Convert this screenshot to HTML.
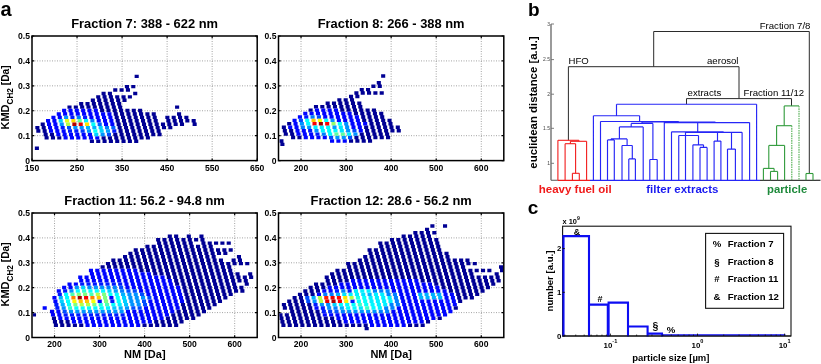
<!DOCTYPE html>
<html><head><meta charset="utf-8"><title>Figure</title>
<style>
html,body{margin:0;padding:0;background:#fff;}
body{width:821px;height:364px;overflow:hidden;}
svg{display:block;font-family:'Liberation Sans', sans-serif;}
</style></head><body>
<svg width="821" height="364" viewBox="0 0 821 364">
<rect width="821" height="364" fill="#fff"/>
<path d="M77.04 36.00V160.60 M122.08 36.00V160.60 M167.12 36.00V160.60 M212.16 36.00V160.60 M32.00 135.68H257.20 M32.00 110.76H257.20 M32.00 85.84H257.20 M32.00 60.92H257.20" stroke="#9a9a9a" stroke-width="0.9" stroke-dasharray="1 1.5" fill="none"/>
<path d="M301.03 36.00V160.60 M346.09 36.00V160.60 M391.15 36.00V160.60 M436.21 36.00V160.60 M481.27 36.00V160.60 M278.50 135.68H503.80 M278.50 110.76H503.80 M278.50 85.84H503.80 M278.50 60.92H503.80" stroke="#9a9a9a" stroke-width="0.9" stroke-dasharray="1 1.5" fill="none"/>
<path d="M54.52 213.00V337.50 M99.56 213.00V337.50 M144.60 213.00V337.50 M189.64 213.00V337.50 M234.68 213.00V337.50 M32.00 312.60H257.20 M32.00 287.70H257.20 M32.00 262.80H257.20 M32.00 237.90H257.20" stroke="#9a9a9a" stroke-width="0.9" stroke-dasharray="1 1.5" fill="none"/>
<path d="M301.03 213.00V337.50 M346.09 213.00V337.50 M391.15 213.00V337.50 M436.21 213.00V337.50 M481.27 213.00V337.50 M278.50 312.60H503.80 M278.50 287.70H503.80 M278.50 262.80H503.80 M278.50 237.90H503.80" stroke="#9a9a9a" stroke-width="0.9" stroke-dasharray="1 1.5" fill="none"/>
<clipPath id="cpTL"><rect x="32.8" y="36.8" width="223.59999999999997" height="123.00000000000001"/></clipPath>
<g clip-path="url(#cpTL)">
<path d="M34.84 146.46h4.10v3.42h-4.10zM35.32 125.94h4.10v3.42h-4.10zM36.29 129.36h4.10v3.42h-4.10zM40.68 122.52h4.10v3.42h-4.10zM41.65 125.94h4.10v3.42h-4.10zM42.62 129.36h4.10v3.42h-4.10zM43.60 132.78h4.10v3.42h-4.10zM44.57 136.20h4.10v3.42h-4.10zM49.93 132.78h4.10v3.42h-4.10zM50.90 136.20h4.10v3.42h-4.10zM57.23 136.20h4.10v3.42h-4.10zM67.45 105.42h4.10v3.42h-4.10zM73.78 105.42h4.10v3.42h-4.10zM79.14 102.00h4.10v3.42h-4.10zM80.11 105.42h4.10v3.42h-4.10zM89.86 139.62h4.10v3.42h-4.10zM85.47 102.00h4.10v3.42h-4.10zM86.44 105.42h4.10v3.42h-4.10zM96.19 139.62h4.10v3.42h-4.10zM90.82 98.58h4.10v3.42h-4.10zM91.80 102.00h4.10v3.42h-4.10zM92.77 105.42h4.10v3.42h-4.10zM101.54 136.20h4.10v3.42h-4.10zM102.52 139.62h4.10v3.42h-4.10zM96.18 95.16h4.10v3.42h-4.10zM97.15 98.58h4.10v3.42h-4.10zM98.13 102.00h4.10v3.42h-4.10zM99.10 105.42h4.10v3.42h-4.10zM100.08 108.84h4.10v3.42h-4.10zM107.87 136.20h4.10v3.42h-4.10zM108.85 139.62h4.10v3.42h-4.10zM101.53 91.74h4.10v3.42h-4.10zM102.51 95.16h4.10v3.42h-4.10zM103.48 98.58h4.10v3.42h-4.10zM104.46 102.00h4.10v3.42h-4.10zM105.43 105.42h4.10v3.42h-4.10zM106.41 108.84h4.10v3.42h-4.10zM113.23 132.78h4.10v3.42h-4.10zM114.20 136.20h4.10v3.42h-4.10zM115.18 139.62h4.10v3.42h-4.10zM107.86 91.74h4.10v3.42h-4.10zM108.84 95.16h4.10v3.42h-4.10zM109.81 98.58h4.10v3.42h-4.10zM110.79 102.00h4.10v3.42h-4.10zM111.76 105.42h4.10v3.42h-4.10zM112.74 108.84h4.10v3.42h-4.10zM113.71 112.26h4.10v3.42h-4.10zM114.69 115.68h4.10v3.42h-4.10zM115.66 119.10h4.10v3.42h-4.10zM116.64 122.52h4.10v3.42h-4.10zM117.61 125.94h4.10v3.42h-4.10zM118.58 129.36h4.10v3.42h-4.10zM119.56 132.78h4.10v3.42h-4.10zM120.53 136.20h4.10v3.42h-4.10zM121.51 139.62h4.10v3.42h-4.10zM115.17 95.16h4.10v3.42h-4.10zM116.14 98.58h4.10v3.42h-4.10zM117.12 102.00h4.10v3.42h-4.10zM118.09 105.42h4.10v3.42h-4.10zM119.07 108.84h4.10v3.42h-4.10zM120.04 112.26h4.10v3.42h-4.10zM121.02 115.68h4.10v3.42h-4.10zM121.99 119.10h4.10v3.42h-4.10zM122.97 122.52h4.10v3.42h-4.10zM123.94 125.94h4.10v3.42h-4.10zM124.91 129.36h4.10v3.42h-4.10zM125.89 132.78h4.10v3.42h-4.10zM126.86 136.20h4.10v3.42h-4.10zM127.84 139.62h4.10v3.42h-4.10zM113.22 88.32h4.10v3.42h-4.10zM121.50 95.16h4.10v3.42h-4.10zM122.47 98.58h4.10v3.42h-4.10zM119.55 88.32h4.10v3.42h-4.10zM125.40 108.84h4.10v3.42h-4.10zM126.37 112.26h4.10v3.42h-4.10zM127.35 115.68h4.10v3.42h-4.10zM128.32 119.10h4.10v3.42h-4.10zM129.30 122.52h4.10v3.42h-4.10zM130.27 125.94h4.10v3.42h-4.10zM131.24 129.36h4.10v3.42h-4.10zM132.22 132.78h4.10v3.42h-4.10zM133.19 136.20h4.10v3.42h-4.10zM134.17 139.62h4.10v3.42h-4.10zM124.90 84.90h4.10v3.42h-4.10zM125.88 88.32h4.10v3.42h-4.10zM127.83 95.16h4.10v3.42h-4.10zM131.73 108.84h4.10v3.42h-4.10zM132.70 112.26h4.10v3.42h-4.10zM133.68 115.68h4.10v3.42h-4.10zM134.65 119.10h4.10v3.42h-4.10zM135.63 122.52h4.10v3.42h-4.10zM136.60 125.94h4.10v3.42h-4.10zM137.57 129.36h4.10v3.42h-4.10zM138.55 132.78h4.10v3.42h-4.10zM139.52 136.20h4.10v3.42h-4.10zM131.23 84.90h4.10v3.42h-4.10zM133.18 91.74h4.10v3.42h-4.10zM138.06 108.84h4.10v3.42h-4.10zM139.03 112.26h4.10v3.42h-4.10zM140.01 115.68h4.10v3.42h-4.10zM140.98 119.10h4.10v3.42h-4.10zM141.96 122.52h4.10v3.42h-4.10zM142.93 125.94h4.10v3.42h-4.10zM143.90 129.36h4.10v3.42h-4.10zM144.88 132.78h4.10v3.42h-4.10zM145.85 136.20h4.10v3.42h-4.10zM134.64 74.64h4.10v3.42h-4.10zM145.36 112.26h4.10v3.42h-4.10zM146.34 115.68h4.10v3.42h-4.10zM147.31 119.10h4.10v3.42h-4.10zM148.29 122.52h4.10v3.42h-4.10zM149.26 125.94h4.10v3.42h-4.10zM150.23 129.36h4.10v3.42h-4.10zM151.21 132.78h4.10v3.42h-4.10zM151.69 112.26h4.10v3.42h-4.10zM152.67 115.68h4.10v3.42h-4.10zM153.64 119.10h4.10v3.42h-4.10zM154.62 122.52h4.10v3.42h-4.10zM155.59 125.94h4.10v3.42h-4.10zM156.56 129.36h4.10v3.42h-4.10zM157.54 132.78h4.10v3.42h-4.10zM160.95 122.52h4.10v3.42h-4.10zM161.92 125.94h4.10v3.42h-4.10zM165.33 115.68h4.10v3.42h-4.10zM166.30 119.10h4.10v3.42h-4.10zM167.28 122.52h4.10v3.42h-4.10zM168.25 125.94h4.10v3.42h-4.10zM171.66 115.68h4.10v3.42h-4.10zM172.63 119.10h4.10v3.42h-4.10zM173.61 122.52h4.10v3.42h-4.10zM175.06 105.42h4.10v3.42h-4.10zM177.01 112.26h4.10v3.42h-4.10zM177.99 115.68h4.10v3.42h-4.10zM178.96 119.10h4.10v3.42h-4.10zM179.94 122.52h4.10v3.42h-4.10zM184.32 115.68h4.10v3.42h-4.10zM185.29 119.10h4.10v3.42h-4.10zM191.62 119.10h4.10v3.42h-4.10zM192.60 122.52h4.10v3.42h-4.10z" fill="#000094"/>
<path d="M46.03 119.10h4.10v3.42h-4.10zM47.01 122.52h4.10v3.42h-4.10zM47.98 125.94h4.10v3.42h-4.10zM48.95 129.36h4.10v3.42h-4.10zM51.39 115.68h4.10v3.42h-4.10zM52.36 119.10h4.10v3.42h-4.10zM53.34 122.52h4.10v3.42h-4.10zM54.31 125.94h4.10v3.42h-4.10zM55.28 129.36h4.10v3.42h-4.10zM56.26 132.78h4.10v3.42h-4.10zM56.74 112.26h4.10v3.42h-4.10zM57.72 115.68h4.10v3.42h-4.10zM61.61 129.36h4.10v3.42h-4.10zM62.59 132.78h4.10v3.42h-4.10zM63.56 136.20h4.10v3.42h-4.10zM62.10 108.84h4.10v3.42h-4.10zM63.07 112.26h4.10v3.42h-4.10zM68.92 132.78h4.10v3.42h-4.10zM69.89 136.20h4.10v3.42h-4.10zM68.43 108.84h4.10v3.42h-4.10zM69.40 112.26h4.10v3.42h-4.10zM75.25 132.78h4.10v3.42h-4.10zM76.22 136.20h4.10v3.42h-4.10zM74.76 108.84h4.10v3.42h-4.10zM75.73 112.26h4.10v3.42h-4.10zM81.58 132.78h4.10v3.42h-4.10zM82.55 136.20h4.10v3.42h-4.10zM81.09 108.84h4.10v3.42h-4.10zM82.06 112.26h4.10v3.42h-4.10zM87.91 132.78h4.10v3.42h-4.10zM88.88 136.20h4.10v3.42h-4.10zM87.42 108.84h4.10v3.42h-4.10zM88.39 112.26h4.10v3.42h-4.10zM89.37 115.68h4.10v3.42h-4.10zM95.21 136.20h4.10v3.42h-4.10zM93.75 108.84h4.10v3.42h-4.10zM94.72 112.26h4.10v3.42h-4.10zM95.70 115.68h4.10v3.42h-4.10zM96.67 119.10h4.10v3.42h-4.10zM101.05 112.26h4.10v3.42h-4.10zM102.03 115.68h4.10v3.42h-4.10zM103.00 119.10h4.10v3.42h-4.10zM103.98 122.52h4.10v3.42h-4.10zM107.38 112.26h4.10v3.42h-4.10zM108.36 115.68h4.10v3.42h-4.10zM109.33 119.10h4.10v3.42h-4.10zM110.31 122.52h4.10v3.42h-4.10z" fill="#0005ff"/>
<path d="M58.69 119.10h4.10v3.42h-4.10zM94.24 132.78h4.10v3.42h-4.10zM98.62 125.94h4.10v3.42h-4.10zM99.59 129.36h4.10v3.42h-4.10z" fill="#00d1ff"/>
<path d="M59.67 122.52h4.10v3.42h-4.10zM64.05 115.68h4.10v3.42h-4.10zM73.30 125.94h4.10v3.42h-4.10zM79.63 125.94h4.10v3.42h-4.10zM86.93 129.36h4.10v3.42h-4.10zM100.57 132.78h4.10v3.42h-4.10z" fill="#0094ff"/>
<path d="M60.64 125.94h4.10v3.42h-4.10zM67.94 129.36h4.10v3.42h-4.10zM70.38 115.68h4.10v3.42h-4.10zM74.27 129.36h4.10v3.42h-4.10zM83.04 115.68h4.10v3.42h-4.10zM112.25 129.36h4.10v3.42h-4.10z" fill="#001aff"/>
<path d="M65.02 119.10h4.10v3.42h-4.10z" fill="#e5ff1a"/>
<path d="M66.00 122.52h4.10v3.42h-4.10z" fill="#b3ff4c"/>
<path d="M66.97 125.94h4.10v3.42h-4.10zM106.90 132.78h4.10v3.42h-4.10z" fill="#004dff"/>
<path d="M71.35 119.10h4.10v3.42h-4.10z" fill="#ffdb00"/>
<path d="M72.33 122.52h4.10v3.42h-4.10z" fill="#b30000"/>
<path d="M76.71 115.68h4.10v3.42h-4.10zM90.34 119.10h4.10v3.42h-4.10zM104.95 125.94h4.10v3.42h-4.10z" fill="#0080ff"/>
<path d="M77.68 119.10h4.10v3.42h-4.10z" fill="#61ff9e"/>
<path d="M78.66 122.52h4.10v3.42h-4.10z" fill="#e50000"/>
<path d="M80.60 129.36h4.10v3.42h-4.10z" fill="#0038ff"/>
<path d="M84.01 119.10h4.10v3.42h-4.10z" fill="#00f0ff"/>
<path d="M84.99 122.52h4.10v3.42h-4.10z" fill="#ffe500"/>
<path d="M85.96 125.94h4.10v3.42h-4.10zM92.29 125.94h4.10v3.42h-4.10z" fill="#00b2ff"/>
<path d="M91.32 122.52h4.10v3.42h-4.10zM93.26 129.36h4.10v3.42h-4.10z" fill="#05fffa"/>
<path d="M97.65 122.52h4.10v3.42h-4.10zM111.28 125.94h4.10v3.42h-4.10z" fill="#0061ff"/>
<path d="M105.92 129.36h4.10v3.42h-4.10z" fill="#009eff"/>
</g>
<clipPath id="cpTR"><rect x="279.3" y="36.8" width="223.7" height="123.00000000000001"/></clipPath>
<g clip-path="url(#cpTR)">
<path d="M279.38 139.22h4.10v3.42h-4.10zM280.35 142.64h4.10v3.42h-4.10zM281.81 125.54h4.10v3.42h-4.10zM282.78 128.96h4.10v3.42h-4.10zM283.76 132.38h4.10v3.42h-4.10zM287.16 122.12h4.10v3.42h-4.10zM289.11 128.96h4.10v3.42h-4.10zM290.09 132.38h4.10v3.42h-4.10zM291.06 135.80h4.10v3.42h-4.10zM297.39 135.80h4.10v3.42h-4.10zM308.58 108.44h4.10v3.42h-4.10zM313.94 105.02h4.10v3.42h-4.10zM320.27 105.02h4.10v3.42h-4.10zM325.62 101.60h4.10v3.42h-4.10zM326.60 105.02h4.10v3.42h-4.10zM331.95 101.60h4.10v3.42h-4.10zM332.93 105.02h4.10v3.42h-4.10zM337.31 98.18h4.10v3.42h-4.10zM338.28 101.60h4.10v3.42h-4.10zM339.26 105.02h4.10v3.42h-4.10zM340.23 108.44h4.10v3.42h-4.10zM349.01 139.22h4.10v3.42h-4.10zM343.64 98.18h4.10v3.42h-4.10zM344.61 101.60h4.10v3.42h-4.10zM345.59 105.02h4.10v3.42h-4.10zM346.56 108.44h4.10v3.42h-4.10zM354.36 135.80h4.10v3.42h-4.10zM355.34 139.22h4.10v3.42h-4.10zM348.99 94.76h4.10v3.42h-4.10zM349.97 98.18h4.10v3.42h-4.10zM350.94 101.60h4.10v3.42h-4.10zM351.92 105.02h4.10v3.42h-4.10zM352.89 108.44h4.10v3.42h-4.10zM353.87 111.86h4.10v3.42h-4.10zM359.72 132.38h4.10v3.42h-4.10zM360.69 135.80h4.10v3.42h-4.10zM361.67 139.22h4.10v3.42h-4.10zM354.35 91.34h4.10v3.42h-4.10zM355.32 94.76h4.10v3.42h-4.10zM357.27 101.60h4.10v3.42h-4.10zM358.25 105.02h4.10v3.42h-4.10zM359.22 108.44h4.10v3.42h-4.10zM360.20 111.86h4.10v3.42h-4.10zM361.17 115.28h4.10v3.42h-4.10zM362.15 118.70h4.10v3.42h-4.10zM364.10 125.54h4.10v3.42h-4.10zM365.07 128.96h4.10v3.42h-4.10zM366.05 132.38h4.10v3.42h-4.10zM367.02 135.80h4.10v3.42h-4.10zM368.00 139.22h4.10v3.42h-4.10zM359.70 87.92h4.10v3.42h-4.10zM360.68 91.34h4.10v3.42h-4.10zM365.55 108.44h4.10v3.42h-4.10zM366.53 111.86h4.10v3.42h-4.10zM367.50 115.28h4.10v3.42h-4.10zM368.48 118.70h4.10v3.42h-4.10zM369.45 122.12h4.10v3.42h-4.10zM370.43 125.54h4.10v3.42h-4.10zM371.40 128.96h4.10v3.42h-4.10zM372.38 132.38h4.10v3.42h-4.10zM373.35 135.80h4.10v3.42h-4.10zM366.03 87.92h4.10v3.42h-4.10zM367.01 91.34h4.10v3.42h-4.10zM371.88 108.44h4.10v3.42h-4.10zM372.86 111.86h4.10v3.42h-4.10zM373.83 115.28h4.10v3.42h-4.10zM374.81 118.70h4.10v3.42h-4.10zM375.78 122.12h4.10v3.42h-4.10zM376.76 125.54h4.10v3.42h-4.10zM377.73 128.96h4.10v3.42h-4.10zM378.71 132.38h4.10v3.42h-4.10zM379.68 135.80h4.10v3.42h-4.10zM371.39 84.50h4.10v3.42h-4.10zM373.34 91.34h4.10v3.42h-4.10zM379.19 111.86h4.10v3.42h-4.10zM380.16 115.28h4.10v3.42h-4.10zM381.14 118.70h4.10v3.42h-4.10zM382.11 122.12h4.10v3.42h-4.10zM383.09 125.54h4.10v3.42h-4.10zM384.06 128.96h4.10v3.42h-4.10zM385.04 132.38h4.10v3.42h-4.10zM386.01 135.80h4.10v3.42h-4.10zM376.75 81.08h4.10v3.42h-4.10zM377.72 84.50h4.10v3.42h-4.10zM379.67 91.34h4.10v3.42h-4.10zM387.47 118.70h4.10v3.42h-4.10zM388.44 122.12h4.10v3.42h-4.10zM389.42 125.54h4.10v3.42h-4.10zM390.39 128.96h4.10v3.42h-4.10zM381.13 74.24h4.10v3.42h-4.10zM395.75 125.54h4.10v3.42h-4.10zM396.72 128.96h4.10v3.42h-4.10z" fill="#000094"/>
<path d="M288.14 125.54h4.10v3.42h-4.10zM292.52 118.70h4.10v3.42h-4.10zM293.49 122.12h4.10v3.42h-4.10zM294.47 125.54h4.10v3.42h-4.10zM295.44 128.96h4.10v3.42h-4.10zM296.42 132.38h4.10v3.42h-4.10zM297.87 115.28h4.10v3.42h-4.10zM301.77 128.96h4.10v3.42h-4.10zM302.75 132.38h4.10v3.42h-4.10zM303.72 135.80h4.10v3.42h-4.10zM303.23 111.86h4.10v3.42h-4.10zM309.08 132.38h4.10v3.42h-4.10zM310.05 135.80h4.10v3.42h-4.10zM309.56 111.86h4.10v3.42h-4.10zM316.38 135.80h4.10v3.42h-4.10zM314.91 108.44h4.10v3.42h-4.10zM315.89 111.86h4.10v3.42h-4.10zM322.71 135.80h4.10v3.42h-4.10zM321.24 108.44h4.10v3.42h-4.10zM322.22 111.86h4.10v3.42h-4.10zM323.19 115.28h4.10v3.42h-4.10zM330.02 139.22h4.10v3.42h-4.10zM327.57 108.44h4.10v3.42h-4.10zM328.55 111.86h4.10v3.42h-4.10zM329.52 115.28h4.10v3.42h-4.10zM336.35 139.22h4.10v3.42h-4.10zM333.90 108.44h4.10v3.42h-4.10zM334.88 111.86h4.10v3.42h-4.10zM335.85 115.28h4.10v3.42h-4.10zM336.83 118.70h4.10v3.42h-4.10zM342.68 139.22h4.10v3.42h-4.10zM341.21 111.86h4.10v3.42h-4.10zM342.18 115.28h4.10v3.42h-4.10zM343.16 118.70h4.10v3.42h-4.10zM347.54 111.86h4.10v3.42h-4.10zM348.51 115.28h4.10v3.42h-4.10zM349.49 118.70h4.10v3.42h-4.10zM350.46 122.12h4.10v3.42h-4.10zM351.44 125.54h4.10v3.42h-4.10zM354.84 115.28h4.10v3.42h-4.10zM355.82 118.70h4.10v3.42h-4.10zM356.79 122.12h4.10v3.42h-4.10zM357.77 125.54h4.10v3.42h-4.10zM358.74 128.96h4.10v3.42h-4.10zM363.12 122.12h4.10v3.42h-4.10z" fill="#0005ff"/>
<path d="M298.85 118.70h4.10v3.42h-4.10zM316.86 115.28h4.10v3.42h-4.10zM329.04 135.80h4.10v3.42h-4.10zM348.03 135.80h4.10v3.42h-4.10zM352.41 128.96h4.10v3.42h-4.10z" fill="#004dff"/>
<path d="M299.82 122.12h4.10v3.42h-4.10zM307.13 125.54h4.10v3.42h-4.10zM330.50 118.70h4.10v3.42h-4.10zM335.37 135.80h4.10v3.42h-4.10zM341.70 135.80h4.10v3.42h-4.10zM344.13 122.12h4.10v3.42h-4.10zM345.11 125.54h4.10v3.42h-4.10zM346.08 128.96h4.10v3.42h-4.10zM353.39 132.38h4.10v3.42h-4.10z" fill="#0094ff"/>
<path d="M300.80 125.54h4.10v3.42h-4.10zM310.53 115.28h4.10v3.42h-4.10zM321.74 132.38h4.10v3.42h-4.10z" fill="#0080ff"/>
<path d="M304.20 115.28h4.10v3.42h-4.10zM308.10 128.96h4.10v3.42h-4.10zM315.41 132.38h4.10v3.42h-4.10z" fill="#001aff"/>
<path d="M305.18 118.70h4.10v3.42h-4.10zM324.17 118.70h4.10v3.42h-4.10zM337.80 122.12h4.10v3.42h-4.10z" fill="#05fffa"/>
<path d="M306.15 122.12h4.10v3.42h-4.10zM326.12 125.54h4.10v3.42h-4.10zM327.09 128.96h4.10v3.42h-4.10zM328.07 132.38h4.10v3.42h-4.10zM333.42 128.96h4.10v3.42h-4.10z" fill="#00faff"/>
<path d="M311.51 118.70h4.10v3.42h-4.10z" fill="#ffc700"/>
<path d="M312.48 122.12h4.10v3.42h-4.10zM325.14 122.12h4.10v3.42h-4.10z" fill="#fa0000"/>
<path d="M313.46 125.54h4.10v3.42h-4.10zM319.79 125.54h4.10v3.42h-4.10zM320.76 128.96h4.10v3.42h-4.10zM347.06 132.38h4.10v3.42h-4.10z" fill="#00f0ff"/>
<path d="M314.43 128.96h4.10v3.42h-4.10z" fill="#008aff"/>
<path d="M317.84 118.70h4.10v3.42h-4.10z" fill="#faff05"/>
<path d="M318.81 122.12h4.10v3.42h-4.10z" fill="#9e0000"/>
<path d="M331.47 122.12h4.10v3.42h-4.10z" fill="#94ff6b"/>
<path d="M332.45 125.54h4.10v3.42h-4.10z" fill="#009eff"/>
<path d="M334.40 132.38h4.10v3.42h-4.10zM340.73 132.38h4.10v3.42h-4.10z" fill="#61ff9e"/>
<path d="M338.78 125.54h4.10v3.42h-4.10zM339.75 128.96h4.10v3.42h-4.10z" fill="#00e5ff"/>
</g>
<clipPath id="cpBL"><rect x="32.8" y="213.8" width="223.59999999999997" height="122.89999999999998"/></clipPath>
<g clip-path="url(#cpBL)">
<path d="M31.94 313.20h4.10v3.42h-4.10zM194.07 237.96h4.10v3.42h-4.10zM214.03 241.38h4.10v3.42h-4.10zM215.98 248.22h4.10v3.42h-4.10zM216.96 251.64h4.10v3.42h-4.10zM220.36 241.38h4.10v3.42h-4.10zM222.31 248.22h4.10v3.42h-4.10zM223.29 251.64h4.10v3.42h-4.10zM226.69 241.38h4.10v3.42h-4.10zM228.64 248.22h4.10v3.42h-4.10zM231.57 258.48h4.10v3.42h-4.10zM232.54 261.90h4.10v3.42h-4.10zM235.47 272.16h4.10v3.42h-4.10zM236.44 275.58h4.10v3.42h-4.10zM237.42 279.00h4.10v3.42h-4.10zM239.37 285.84h4.10v3.42h-4.10zM240.34 289.26h4.10v3.42h-4.10zM236.92 255.06h4.10v3.42h-4.10zM237.90 258.48h4.10v3.42h-4.10zM238.87 261.90h4.10v3.42h-4.10zM242.77 275.58h4.10v3.42h-4.10zM243.75 279.00h4.10v3.42h-4.10zM244.72 282.42h4.10v3.42h-4.10zM245.20 261.90h4.10v3.42h-4.10zM248.13 272.16h4.10v3.42h-4.10zM249.10 275.58h4.10v3.42h-4.10zM51.91 316.62h4.10v3.42h-4.10zM52.88 320.04h4.10v3.42h-4.10zM53.86 323.46h4.10v3.42h-4.10zM59.21 320.04h4.10v3.42h-4.10zM60.19 323.46h4.10v3.42h-4.10zM65.54 320.04h4.10v3.42h-4.10zM66.52 323.46h4.10v3.42h-4.10zM72.85 323.46h4.10v3.42h-4.10zM79.18 323.46h4.10v3.42h-4.10zM100.59 265.32h4.10v3.42h-4.10zM105.94 261.90h4.10v3.42h-4.10zM106.92 265.32h4.10v3.42h-4.10zM111.30 258.48h4.10v3.42h-4.10zM112.27 261.90h4.10v3.42h-4.10zM113.25 265.32h4.10v3.42h-4.10zM117.63 258.48h4.10v3.42h-4.10zM118.60 261.90h4.10v3.42h-4.10zM119.58 265.32h4.10v3.42h-4.10zM122.98 255.06h4.10v3.42h-4.10zM123.96 258.48h4.10v3.42h-4.10zM124.93 261.90h4.10v3.42h-4.10zM125.91 265.32h4.10v3.42h-4.10zM142.48 323.46h4.10v3.42h-4.10zM128.34 251.64h4.10v3.42h-4.10zM129.31 255.06h4.10v3.42h-4.10zM130.29 258.48h4.10v3.42h-4.10zM131.26 261.90h4.10v3.42h-4.10zM132.24 265.32h4.10v3.42h-4.10zM148.81 323.46h4.10v3.42h-4.10zM133.69 248.22h4.10v3.42h-4.10zM134.67 251.64h4.10v3.42h-4.10zM135.64 255.06h4.10v3.42h-4.10zM136.62 258.48h4.10v3.42h-4.10zM137.59 261.90h4.10v3.42h-4.10zM138.57 265.32h4.10v3.42h-4.10zM139.54 268.74h4.10v3.42h-4.10zM154.16 320.04h4.10v3.42h-4.10zM155.14 323.46h4.10v3.42h-4.10zM140.02 248.22h4.10v3.42h-4.10zM141.00 251.64h4.10v3.42h-4.10zM141.97 255.06h4.10v3.42h-4.10zM142.95 258.48h4.10v3.42h-4.10zM143.92 261.90h4.10v3.42h-4.10zM144.90 265.32h4.10v3.42h-4.10zM145.87 268.74h4.10v3.42h-4.10zM160.49 320.04h4.10v3.42h-4.10zM161.47 323.46h4.10v3.42h-4.10zM145.38 244.80h4.10v3.42h-4.10zM146.35 248.22h4.10v3.42h-4.10zM147.33 251.64h4.10v3.42h-4.10zM148.30 255.06h4.10v3.42h-4.10zM149.28 258.48h4.10v3.42h-4.10zM150.25 261.90h4.10v3.42h-4.10zM151.23 265.32h4.10v3.42h-4.10zM152.20 268.74h4.10v3.42h-4.10zM153.18 272.16h4.10v3.42h-4.10zM165.85 316.62h4.10v3.42h-4.10zM166.82 320.04h4.10v3.42h-4.10zM167.80 323.46h4.10v3.42h-4.10zM151.71 244.80h4.10v3.42h-4.10zM152.68 248.22h4.10v3.42h-4.10zM153.66 251.64h4.10v3.42h-4.10zM154.63 255.06h4.10v3.42h-4.10zM155.61 258.48h4.10v3.42h-4.10zM156.58 261.90h4.10v3.42h-4.10zM157.56 265.32h4.10v3.42h-4.10zM158.53 268.74h4.10v3.42h-4.10zM159.51 272.16h4.10v3.42h-4.10zM171.20 313.20h4.10v3.42h-4.10zM172.18 316.62h4.10v3.42h-4.10zM173.15 320.04h4.10v3.42h-4.10zM174.13 323.46h4.10v3.42h-4.10zM156.09 237.96h4.10v3.42h-4.10zM157.06 241.38h4.10v3.42h-4.10zM158.04 244.80h4.10v3.42h-4.10zM159.01 248.22h4.10v3.42h-4.10zM159.99 251.64h4.10v3.42h-4.10zM160.96 255.06h4.10v3.42h-4.10zM161.94 258.48h4.10v3.42h-4.10zM162.91 261.90h4.10v3.42h-4.10zM163.89 265.32h4.10v3.42h-4.10zM164.86 268.74h4.10v3.42h-4.10zM165.84 272.16h4.10v3.42h-4.10zM166.81 275.58h4.10v3.42h-4.10zM176.56 309.78h4.10v3.42h-4.10zM177.53 313.20h4.10v3.42h-4.10zM178.51 316.62h4.10v3.42h-4.10zM179.48 320.04h4.10v3.42h-4.10zM162.42 237.96h4.10v3.42h-4.10zM163.39 241.38h4.10v3.42h-4.10zM164.37 244.80h4.10v3.42h-4.10zM165.34 248.22h4.10v3.42h-4.10zM166.32 251.64h4.10v3.42h-4.10zM167.29 255.06h4.10v3.42h-4.10zM168.27 258.48h4.10v3.42h-4.10zM169.24 261.90h4.10v3.42h-4.10zM170.22 265.32h4.10v3.42h-4.10zM171.19 268.74h4.10v3.42h-4.10zM172.17 272.16h4.10v3.42h-4.10zM173.14 275.58h4.10v3.42h-4.10zM174.12 279.00h4.10v3.42h-4.10zM175.09 282.42h4.10v3.42h-4.10zM180.94 302.94h4.10v3.42h-4.10zM181.91 306.36h4.10v3.42h-4.10zM182.89 309.78h4.10v3.42h-4.10zM183.86 313.20h4.10v3.42h-4.10zM184.84 316.62h4.10v3.42h-4.10zM167.77 234.54h4.10v3.42h-4.10zM168.75 237.96h4.10v3.42h-4.10zM169.72 241.38h4.10v3.42h-4.10zM170.70 244.80h4.10v3.42h-4.10zM171.67 248.22h4.10v3.42h-4.10zM172.65 251.64h4.10v3.42h-4.10zM173.62 255.06h4.10v3.42h-4.10zM174.60 258.48h4.10v3.42h-4.10zM175.57 261.90h4.10v3.42h-4.10zM176.55 265.32h4.10v3.42h-4.10zM177.52 268.74h4.10v3.42h-4.10zM178.50 272.16h4.10v3.42h-4.10zM179.47 275.58h4.10v3.42h-4.10zM180.45 279.00h4.10v3.42h-4.10zM181.42 282.42h4.10v3.42h-4.10zM182.40 285.84h4.10v3.42h-4.10zM183.37 289.26h4.10v3.42h-4.10zM184.34 292.68h4.10v3.42h-4.10zM185.32 296.10h4.10v3.42h-4.10zM186.29 299.52h4.10v3.42h-4.10zM187.27 302.94h4.10v3.42h-4.10zM188.24 306.36h4.10v3.42h-4.10zM189.22 309.78h4.10v3.42h-4.10zM190.19 313.20h4.10v3.42h-4.10zM191.17 316.62h4.10v3.42h-4.10zM174.10 234.54h4.10v3.42h-4.10zM175.08 237.96h4.10v3.42h-4.10zM176.05 241.38h4.10v3.42h-4.10zM177.03 244.80h4.10v3.42h-4.10zM178.00 248.22h4.10v3.42h-4.10zM178.98 251.64h4.10v3.42h-4.10zM179.95 255.06h4.10v3.42h-4.10zM180.93 258.48h4.10v3.42h-4.10zM181.90 261.90h4.10v3.42h-4.10zM182.88 265.32h4.10v3.42h-4.10zM183.85 268.74h4.10v3.42h-4.10zM184.83 272.16h4.10v3.42h-4.10zM185.80 275.58h4.10v3.42h-4.10zM186.78 279.00h4.10v3.42h-4.10zM187.75 282.42h4.10v3.42h-4.10zM188.73 285.84h4.10v3.42h-4.10zM189.70 289.26h4.10v3.42h-4.10zM190.67 292.68h4.10v3.42h-4.10zM191.65 296.10h4.10v3.42h-4.10zM192.62 299.52h4.10v3.42h-4.10zM193.60 302.94h4.10v3.42h-4.10zM194.57 306.36h4.10v3.42h-4.10zM195.55 309.78h4.10v3.42h-4.10zM196.52 313.20h4.10v3.42h-4.10zM181.41 237.96h4.10v3.42h-4.10zM182.38 241.38h4.10v3.42h-4.10zM183.36 244.80h4.10v3.42h-4.10zM184.33 248.22h4.10v3.42h-4.10zM185.31 251.64h4.10v3.42h-4.10zM186.28 255.06h4.10v3.42h-4.10zM187.26 258.48h4.10v3.42h-4.10zM188.23 261.90h4.10v3.42h-4.10zM189.21 265.32h4.10v3.42h-4.10zM190.18 268.74h4.10v3.42h-4.10zM191.16 272.16h4.10v3.42h-4.10zM192.13 275.58h4.10v3.42h-4.10zM193.11 279.00h4.10v3.42h-4.10zM194.08 282.42h4.10v3.42h-4.10zM195.06 285.84h4.10v3.42h-4.10zM196.03 289.26h4.10v3.42h-4.10zM197.00 292.68h4.10v3.42h-4.10zM197.98 296.10h4.10v3.42h-4.10zM198.95 299.52h4.10v3.42h-4.10zM199.93 302.94h4.10v3.42h-4.10zM200.90 306.36h4.10v3.42h-4.10zM201.88 309.78h4.10v3.42h-4.10zM186.76 234.54h4.10v3.42h-4.10zM187.74 237.96h4.10v3.42h-4.10zM188.71 241.38h4.10v3.42h-4.10zM189.69 244.80h4.10v3.42h-4.10zM190.66 248.22h4.10v3.42h-4.10zM191.64 251.64h4.10v3.42h-4.10zM192.61 255.06h4.10v3.42h-4.10zM193.59 258.48h4.10v3.42h-4.10zM194.56 261.90h4.10v3.42h-4.10zM195.54 265.32h4.10v3.42h-4.10zM196.51 268.74h4.10v3.42h-4.10zM197.49 272.16h4.10v3.42h-4.10zM198.46 275.58h4.10v3.42h-4.10zM199.44 279.00h4.10v3.42h-4.10zM200.41 282.42h4.10v3.42h-4.10zM201.39 285.84h4.10v3.42h-4.10zM202.36 289.26h4.10v3.42h-4.10zM203.33 292.68h4.10v3.42h-4.10zM204.31 296.10h4.10v3.42h-4.10zM205.28 299.52h4.10v3.42h-4.10zM206.26 302.94h4.10v3.42h-4.10zM207.23 306.36h4.10v3.42h-4.10zM196.02 244.80h4.10v3.42h-4.10zM196.99 248.22h4.10v3.42h-4.10zM197.97 251.64h4.10v3.42h-4.10zM198.94 255.06h4.10v3.42h-4.10zM199.92 258.48h4.10v3.42h-4.10zM200.89 261.90h4.10v3.42h-4.10zM201.87 265.32h4.10v3.42h-4.10zM202.84 268.74h4.10v3.42h-4.10zM203.82 272.16h4.10v3.42h-4.10zM204.79 275.58h4.10v3.42h-4.10zM205.77 279.00h4.10v3.42h-4.10zM206.74 282.42h4.10v3.42h-4.10zM207.72 285.84h4.10v3.42h-4.10zM208.69 289.26h4.10v3.42h-4.10zM209.66 292.68h4.10v3.42h-4.10zM210.64 296.10h4.10v3.42h-4.10zM211.61 299.52h4.10v3.42h-4.10zM212.59 302.94h4.10v3.42h-4.10zM199.42 234.54h4.10v3.42h-4.10zM200.40 237.96h4.10v3.42h-4.10zM201.37 241.38h4.10v3.42h-4.10zM202.35 244.80h4.10v3.42h-4.10zM203.32 248.22h4.10v3.42h-4.10zM204.30 251.64h4.10v3.42h-4.10zM205.27 255.06h4.10v3.42h-4.10zM206.25 258.48h4.10v3.42h-4.10zM207.22 261.90h4.10v3.42h-4.10zM208.20 265.32h4.10v3.42h-4.10zM209.17 268.74h4.10v3.42h-4.10zM210.15 272.16h4.10v3.42h-4.10zM211.12 275.58h4.10v3.42h-4.10zM212.10 279.00h4.10v3.42h-4.10zM213.07 282.42h4.10v3.42h-4.10zM214.05 285.84h4.10v3.42h-4.10zM215.02 289.26h4.10v3.42h-4.10zM215.99 292.68h4.10v3.42h-4.10zM216.97 296.10h4.10v3.42h-4.10zM217.94 299.52h4.10v3.42h-4.10zM207.70 241.38h4.10v3.42h-4.10zM208.68 244.80h4.10v3.42h-4.10zM209.65 248.22h4.10v3.42h-4.10zM210.63 251.64h4.10v3.42h-4.10zM211.60 255.06h4.10v3.42h-4.10zM212.58 258.48h4.10v3.42h-4.10zM213.55 261.90h4.10v3.42h-4.10zM214.53 265.32h4.10v3.42h-4.10zM215.50 268.74h4.10v3.42h-4.10zM216.48 272.16h4.10v3.42h-4.10zM217.45 275.58h4.10v3.42h-4.10zM218.43 279.00h4.10v3.42h-4.10zM219.40 282.42h4.10v3.42h-4.10zM220.38 285.84h4.10v3.42h-4.10zM221.35 289.26h4.10v3.42h-4.10zM222.32 292.68h4.10v3.42h-4.10zM223.30 296.10h4.10v3.42h-4.10zM218.91 258.48h4.10v3.42h-4.10zM219.88 261.90h4.10v3.42h-4.10zM220.86 265.32h4.10v3.42h-4.10zM221.83 268.74h4.10v3.42h-4.10zM222.81 272.16h4.10v3.42h-4.10zM223.78 275.58h4.10v3.42h-4.10zM224.76 279.00h4.10v3.42h-4.10zM225.73 282.42h4.10v3.42h-4.10zM226.71 285.84h4.10v3.42h-4.10zM227.68 289.26h4.10v3.42h-4.10zM228.65 292.68h4.10v3.42h-4.10zM226.21 261.90h4.10v3.42h-4.10zM227.19 265.32h4.10v3.42h-4.10zM228.16 268.74h4.10v3.42h-4.10zM229.14 272.16h4.10v3.42h-4.10zM230.11 275.58h4.10v3.42h-4.10zM231.09 279.00h4.10v3.42h-4.10zM232.06 282.42h4.10v3.42h-4.10zM233.04 285.84h4.10v3.42h-4.10zM234.01 289.26h4.10v3.42h-4.10z" fill="#000094"/>
<path d="M42.65 306.36h4.10v3.42h-4.10zM53.36 299.52h4.10v3.42h-4.10zM56.29 309.78h4.10v3.42h-4.10zM57.26 313.20h4.10v3.42h-4.10zM58.24 316.62h4.10v3.42h-4.10zM56.77 289.26h4.10v3.42h-4.10zM64.57 316.62h4.10v3.42h-4.10zM62.13 285.84h4.10v3.42h-4.10zM70.90 316.62h4.10v3.42h-4.10zM71.87 320.04h4.10v3.42h-4.10zM67.48 282.42h4.10v3.42h-4.10zM68.46 285.84h4.10v3.42h-4.10zM77.23 316.62h4.10v3.42h-4.10zM78.20 320.04h4.10v3.42h-4.10zM73.81 282.42h4.10v3.42h-4.10zM83.56 316.62h4.10v3.42h-4.10zM84.53 320.04h4.10v3.42h-4.10zM85.51 323.46h4.10v3.42h-4.10zM78.19 275.58h4.10v3.42h-4.10zM79.17 279.00h4.10v3.42h-4.10zM89.89 316.62h4.10v3.42h-4.10zM90.86 320.04h4.10v3.42h-4.10zM91.84 323.46h4.10v3.42h-4.10zM84.52 275.58h4.10v3.42h-4.10zM85.50 279.00h4.10v3.42h-4.10zM96.22 316.62h4.10v3.42h-4.10zM97.19 320.04h4.10v3.42h-4.10zM98.17 323.46h4.10v3.42h-4.10zM88.90 268.74h4.10v3.42h-4.10zM89.88 272.16h4.10v3.42h-4.10zM90.85 275.58h4.10v3.42h-4.10zM91.83 279.00h4.10v3.42h-4.10zM97.67 299.52h4.10v3.42h-4.10zM102.55 316.62h4.10v3.42h-4.10zM103.52 320.04h4.10v3.42h-4.10zM104.50 323.46h4.10v3.42h-4.10zM95.23 268.74h4.10v3.42h-4.10zM96.21 272.16h4.10v3.42h-4.10zM97.18 275.58h4.10v3.42h-4.10zM98.16 279.00h4.10v3.42h-4.10zM108.88 316.62h4.10v3.42h-4.10zM109.85 320.04h4.10v3.42h-4.10zM110.83 323.46h4.10v3.42h-4.10zM101.56 268.74h4.10v3.42h-4.10zM102.54 272.16h4.10v3.42h-4.10zM103.51 275.58h4.10v3.42h-4.10zM104.49 279.00h4.10v3.42h-4.10zM109.36 296.10h4.10v3.42h-4.10zM115.21 316.62h4.10v3.42h-4.10zM116.18 320.04h4.10v3.42h-4.10zM117.16 323.46h4.10v3.42h-4.10zM107.89 268.74h4.10v3.42h-4.10zM108.87 272.16h4.10v3.42h-4.10zM109.84 275.58h4.10v3.42h-4.10zM110.82 279.00h4.10v3.42h-4.10zM121.54 316.62h4.10v3.42h-4.10zM122.51 320.04h4.10v3.42h-4.10zM123.49 323.46h4.10v3.42h-4.10zM114.22 268.74h4.10v3.42h-4.10zM115.20 272.16h4.10v3.42h-4.10zM116.17 275.58h4.10v3.42h-4.10zM117.15 279.00h4.10v3.42h-4.10zM125.92 309.78h4.10v3.42h-4.10zM126.89 313.20h4.10v3.42h-4.10zM127.87 316.62h4.10v3.42h-4.10zM128.84 320.04h4.10v3.42h-4.10zM129.82 323.46h4.10v3.42h-4.10zM120.55 268.74h4.10v3.42h-4.10zM121.53 272.16h4.10v3.42h-4.10zM122.50 275.58h4.10v3.42h-4.10zM123.48 279.00h4.10v3.42h-4.10zM124.45 282.42h4.10v3.42h-4.10zM125.43 285.84h4.10v3.42h-4.10zM132.25 309.78h4.10v3.42h-4.10zM133.22 313.20h4.10v3.42h-4.10zM134.20 316.62h4.10v3.42h-4.10zM135.17 320.04h4.10v3.42h-4.10zM136.15 323.46h4.10v3.42h-4.10zM126.88 268.74h4.10v3.42h-4.10zM127.86 272.16h4.10v3.42h-4.10zM128.83 275.58h4.10v3.42h-4.10zM129.81 279.00h4.10v3.42h-4.10zM130.78 282.42h4.10v3.42h-4.10zM131.76 285.84h4.10v3.42h-4.10zM138.58 309.78h4.10v3.42h-4.10zM139.55 313.20h4.10v3.42h-4.10zM140.53 316.62h4.10v3.42h-4.10zM141.50 320.04h4.10v3.42h-4.10zM133.21 268.74h4.10v3.42h-4.10zM134.19 272.16h4.10v3.42h-4.10zM135.16 275.58h4.10v3.42h-4.10zM136.14 279.00h4.10v3.42h-4.10zM137.11 282.42h4.10v3.42h-4.10zM138.09 285.84h4.10v3.42h-4.10zM139.06 289.26h4.10v3.42h-4.10zM143.93 306.36h4.10v3.42h-4.10zM144.91 309.78h4.10v3.42h-4.10zM145.88 313.20h4.10v3.42h-4.10zM146.86 316.62h4.10v3.42h-4.10zM147.83 320.04h4.10v3.42h-4.10zM140.52 272.16h4.10v3.42h-4.10zM141.49 275.58h4.10v3.42h-4.10zM142.47 279.00h4.10v3.42h-4.10zM143.44 282.42h4.10v3.42h-4.10zM144.42 285.84h4.10v3.42h-4.10zM145.39 289.26h4.10v3.42h-4.10zM146.36 292.68h4.10v3.42h-4.10zM148.31 299.52h4.10v3.42h-4.10zM149.29 302.94h4.10v3.42h-4.10zM150.26 306.36h4.10v3.42h-4.10zM151.24 309.78h4.10v3.42h-4.10zM152.21 313.20h4.10v3.42h-4.10zM153.19 316.62h4.10v3.42h-4.10zM146.85 272.16h4.10v3.42h-4.10zM147.82 275.58h4.10v3.42h-4.10zM148.80 279.00h4.10v3.42h-4.10zM149.77 282.42h4.10v3.42h-4.10zM150.75 285.84h4.10v3.42h-4.10zM151.72 289.26h4.10v3.42h-4.10zM152.69 292.68h4.10v3.42h-4.10zM153.67 296.10h4.10v3.42h-4.10zM154.64 299.52h4.10v3.42h-4.10zM155.62 302.94h4.10v3.42h-4.10zM156.59 306.36h4.10v3.42h-4.10zM157.57 309.78h4.10v3.42h-4.10zM158.54 313.20h4.10v3.42h-4.10zM159.52 316.62h4.10v3.42h-4.10zM154.15 275.58h4.10v3.42h-4.10zM155.13 279.00h4.10v3.42h-4.10zM156.10 282.42h4.10v3.42h-4.10zM157.08 285.84h4.10v3.42h-4.10zM158.05 289.26h4.10v3.42h-4.10zM159.02 292.68h4.10v3.42h-4.10zM160.00 296.10h4.10v3.42h-4.10zM160.97 299.52h4.10v3.42h-4.10zM161.95 302.94h4.10v3.42h-4.10zM162.92 306.36h4.10v3.42h-4.10zM163.90 309.78h4.10v3.42h-4.10zM164.87 313.20h4.10v3.42h-4.10zM160.48 275.58h4.10v3.42h-4.10zM161.46 279.00h4.10v3.42h-4.10zM162.43 282.42h4.10v3.42h-4.10zM163.41 285.84h4.10v3.42h-4.10zM164.38 289.26h4.10v3.42h-4.10zM165.35 292.68h4.10v3.42h-4.10zM166.33 296.10h4.10v3.42h-4.10zM167.30 299.52h4.10v3.42h-4.10zM168.28 302.94h4.10v3.42h-4.10zM169.25 306.36h4.10v3.42h-4.10zM170.23 309.78h4.10v3.42h-4.10zM167.79 279.00h4.10v3.42h-4.10zM168.76 282.42h4.10v3.42h-4.10zM169.74 285.84h4.10v3.42h-4.10zM170.71 289.26h4.10v3.42h-4.10zM171.68 292.68h4.10v3.42h-4.10zM172.66 296.10h4.10v3.42h-4.10zM173.63 299.52h4.10v3.42h-4.10zM174.61 302.94h4.10v3.42h-4.10zM175.58 306.36h4.10v3.42h-4.10zM176.07 285.84h4.10v3.42h-4.10zM177.04 289.26h4.10v3.42h-4.10zM178.01 292.68h4.10v3.42h-4.10zM178.99 296.10h4.10v3.42h-4.10zM179.96 299.52h4.10v3.42h-4.10z" fill="#0005ff"/>
<path d="M49.96 309.78h4.10v3.42h-4.10zM50.93 313.20h4.10v3.42h-4.10zM52.39 296.10h4.10v3.42h-4.10z" fill="#0000fa"/>
<path d="M54.34 302.94h4.10v3.42h-4.10zM55.31 306.36h4.10v3.42h-4.10zM57.74 292.68h4.10v3.42h-4.10zM63.59 313.20h4.10v3.42h-4.10zM63.10 289.26h4.10v3.42h-4.10zM69.92 313.20h4.10v3.42h-4.10zM76.25 313.20h4.10v3.42h-4.10zM82.58 313.20h4.10v3.42h-4.10zM80.14 282.42h4.10v3.42h-4.10zM88.91 313.20h4.10v3.42h-4.10zM86.47 282.42h4.10v3.42h-4.10zM95.24 313.20h4.10v3.42h-4.10zM92.80 282.42h4.10v3.42h-4.10zM101.57 313.20h4.10v3.42h-4.10zM99.13 282.42h4.10v3.42h-4.10zM107.90 313.20h4.10v3.42h-4.10zM105.46 282.42h4.10v3.42h-4.10zM110.33 299.52h4.10v3.42h-4.10zM114.23 313.20h4.10v3.42h-4.10zM111.79 282.42h4.10v3.42h-4.10zM120.56 313.20h4.10v3.42h-4.10zM118.12 282.42h4.10v3.42h-4.10z" fill="#001aff"/>
<path d="M58.72 296.10h4.10v3.42h-4.10zM60.67 302.94h4.10v3.42h-4.10zM118.61 306.36h4.10v3.42h-4.10zM121.04 292.68h4.10v3.42h-4.10z" fill="#00b2ff"/>
<path d="M59.69 299.52h4.10v3.42h-4.10zM81.12 285.84h4.10v3.42h-4.10zM107.41 289.26h4.10v3.42h-4.10zM122.02 296.10h4.10v3.42h-4.10zM122.99 299.52h4.10v3.42h-4.10z" fill="#00d1ff"/>
<path d="M61.64 306.36h4.10v3.42h-4.10zM68.95 309.78h4.10v3.42h-4.10zM69.43 289.26h4.10v3.42h-4.10zM75.28 309.78h4.10v3.42h-4.10zM74.79 285.84h4.10v3.42h-4.10zM81.61 309.78h4.10v3.42h-4.10zM87.94 309.78h4.10v3.42h-4.10zM87.45 285.84h4.10v3.42h-4.10zM94.27 309.78h4.10v3.42h-4.10zM93.78 285.84h4.10v3.42h-4.10zM100.60 309.78h4.10v3.42h-4.10zM100.11 285.84h4.10v3.42h-4.10zM106.93 309.78h4.10v3.42h-4.10zM113.26 309.78h4.10v3.42h-4.10zM119.59 309.78h4.10v3.42h-4.10zM124.94 306.36h4.10v3.42h-4.10zM127.37 292.68h4.10v3.42h-4.10zM128.35 296.10h4.10v3.42h-4.10zM129.32 299.52h4.10v3.42h-4.10zM130.30 302.94h4.10v3.42h-4.10zM133.70 292.68h4.10v3.42h-4.10zM134.68 296.10h4.10v3.42h-4.10zM135.65 299.52h4.10v3.42h-4.10zM136.63 302.94h4.10v3.42h-4.10zM141.01 296.10h4.10v3.42h-4.10z" fill="#0094ff"/>
<path d="M62.62 309.78h4.10v3.42h-4.10zM119.10 285.84h4.10v3.42h-4.10zM126.40 289.26h4.10v3.42h-4.10zM131.27 306.36h4.10v3.42h-4.10zM132.73 289.26h4.10v3.42h-4.10zM137.60 306.36h4.10v3.42h-4.10zM140.03 292.68h4.10v3.42h-4.10zM141.98 299.52h4.10v3.42h-4.10zM142.96 302.94h4.10v3.42h-4.10zM147.34 296.10h4.10v3.42h-4.10z" fill="#004dff"/>
<path d="M64.07 292.68h4.10v3.42h-4.10zM65.05 296.10h4.10v3.42h-4.10zM75.76 289.26h4.10v3.42h-4.10zM93.29 306.36h4.10v3.42h-4.10zM99.62 306.36h4.10v3.42h-4.10zM101.08 289.26h4.10v3.42h-4.10zM114.71 292.68h4.10v3.42h-4.10z" fill="#00faff"/>
<path d="M66.02 299.52h4.10v3.42h-4.10zM67.00 302.94h4.10v3.42h-4.10zM74.30 306.36h4.10v3.42h-4.10zM80.63 306.36h4.10v3.42h-4.10zM86.96 306.36h4.10v3.42h-4.10zM88.42 289.26h4.10v3.42h-4.10zM94.75 289.26h4.10v3.42h-4.10zM108.38 292.68h4.10v3.42h-4.10zM111.31 302.94h4.10v3.42h-4.10zM115.69 296.10h4.10v3.42h-4.10zM116.66 299.52h4.10v3.42h-4.10z" fill="#05fffa"/>
<path d="M67.97 306.36h4.10v3.42h-4.10zM82.09 289.26h4.10v3.42h-4.10z" fill="#2effd1"/>
<path d="M70.40 292.68h4.10v3.42h-4.10zM89.39 292.68h4.10v3.42h-4.10zM104.98 302.94h4.10v3.42h-4.10z" fill="#4dffb2"/>
<path d="M71.38 296.10h4.10v3.42h-4.10zM90.37 296.10h4.10v3.42h-4.10z" fill="#ff8000"/>
<path d="M72.35 299.52h4.10v3.42h-4.10z" fill="#fffa00"/>
<path d="M73.33 302.94h4.10v3.42h-4.10zM76.73 292.68h4.10v3.42h-4.10zM83.06 292.68h4.10v3.42h-4.10zM92.32 302.94h4.10v3.42h-4.10zM102.05 292.68h4.10v3.42h-4.10zM103.03 296.10h4.10v3.42h-4.10zM104.00 299.52h4.10v3.42h-4.10z" fill="#80ff80"/>
<path d="M77.71 296.10h4.10v3.42h-4.10z" fill="#9e0000"/>
<path d="M78.68 299.52h4.10v3.42h-4.10zM85.01 299.52h4.10v3.42h-4.10zM96.70 296.10h4.10v3.42h-4.10z" fill="#ffc700"/>
<path d="M79.66 302.94h4.10v3.42h-4.10zM85.99 302.94h4.10v3.42h-4.10zM95.72 292.68h4.10v3.42h-4.10z" fill="#b3ff4c"/>
<path d="M84.04 296.10h4.10v3.42h-4.10z" fill="#fa0000"/>
<path d="M91.34 299.52h4.10v3.42h-4.10z" fill="#faff05"/>
<path d="M98.65 302.94h4.10v3.42h-4.10z" fill="#1affe5"/>
<path d="M105.95 306.36h4.10v3.42h-4.10zM117.64 302.94h4.10v3.42h-4.10z" fill="#00f0ff"/>
<path d="M106.44 285.84h4.10v3.42h-4.10zM112.77 285.84h4.10v3.42h-4.10zM120.07 289.26h4.10v3.42h-4.10z" fill="#0080ff"/>
<path d="M112.28 306.36h4.10v3.42h-4.10zM123.97 302.94h4.10v3.42h-4.10z" fill="#00c7ff"/>
<path d="M113.74 289.26h4.10v3.42h-4.10z" fill="#009eff"/>
</g>
<clipPath id="cpBR"><rect x="279.3" y="213.8" width="223.7" height="122.89999999999998"/></clipPath>
<g clip-path="url(#cpBR)">
<path d="M281.85 302.94h4.10v3.42h-4.10zM282.82 306.36h4.10v3.42h-4.10zM363.66 323.46h4.10v3.42h-4.10zM364.63 326.88h4.10v3.42h-4.10zM430.34 224.28h4.10v3.42h-4.10zM432.29 231.12h4.10v3.42h-4.10zM443.00 224.28h4.10v3.42h-4.10zM459.08 258.48h4.10v3.42h-4.10zM460.05 261.90h4.10v3.42h-4.10zM465.41 258.48h4.10v3.42h-4.10zM466.38 261.90h4.10v3.42h-4.10zM472.71 261.90h4.10v3.42h-4.10zM474.66 268.74h4.10v3.42h-4.10zM480.99 268.74h4.10v3.42h-4.10zM487.32 268.74h4.10v3.42h-4.10zM499.01 265.32h4.10v3.42h-4.10zM499.98 268.74h4.10v3.42h-4.10zM278.44 313.20h4.10v3.42h-4.10zM279.42 316.62h4.10v3.42h-4.10zM280.39 320.04h4.10v3.42h-4.10zM281.37 323.46h4.10v3.42h-4.10zM284.77 313.20h4.10v3.42h-4.10zM285.75 316.62h4.10v3.42h-4.10zM286.72 320.04h4.10v3.42h-4.10zM287.70 323.46h4.10v3.42h-4.10zM287.20 299.52h4.10v3.42h-4.10zM288.18 302.94h4.10v3.42h-4.10zM289.15 306.36h4.10v3.42h-4.10zM290.13 309.78h4.10v3.42h-4.10zM291.10 313.20h4.10v3.42h-4.10zM292.08 316.62h4.10v3.42h-4.10zM293.05 320.04h4.10v3.42h-4.10zM294.03 323.46h4.10v3.42h-4.10zM292.56 296.10h4.10v3.42h-4.10zM293.53 299.52h4.10v3.42h-4.10zM294.51 302.94h4.10v3.42h-4.10zM295.48 306.36h4.10v3.42h-4.10zM296.46 309.78h4.10v3.42h-4.10zM297.43 313.20h4.10v3.42h-4.10zM298.41 316.62h4.10v3.42h-4.10zM299.38 320.04h4.10v3.42h-4.10zM300.36 323.46h4.10v3.42h-4.10zM297.91 292.68h4.10v3.42h-4.10zM298.89 296.10h4.10v3.42h-4.10zM299.86 299.52h4.10v3.42h-4.10zM300.84 302.94h4.10v3.42h-4.10zM301.81 306.36h4.10v3.42h-4.10zM302.79 309.78h4.10v3.42h-4.10zM303.76 313.20h4.10v3.42h-4.10zM304.74 316.62h4.10v3.42h-4.10zM305.71 320.04h4.10v3.42h-4.10zM306.69 323.46h4.10v3.42h-4.10zM303.27 289.26h4.10v3.42h-4.10zM304.24 292.68h4.10v3.42h-4.10zM307.17 302.94h4.10v3.42h-4.10zM308.14 306.36h4.10v3.42h-4.10zM309.12 309.78h4.10v3.42h-4.10zM310.09 313.20h4.10v3.42h-4.10zM311.07 316.62h4.10v3.42h-4.10zM312.04 320.04h4.10v3.42h-4.10zM313.02 323.46h4.10v3.42h-4.10zM308.63 285.84h4.10v3.42h-4.10zM309.60 289.26h4.10v3.42h-4.10zM310.57 292.68h4.10v3.42h-4.10zM315.45 309.78h4.10v3.42h-4.10zM316.42 313.20h4.10v3.42h-4.10zM317.40 316.62h4.10v3.42h-4.10zM318.37 320.04h4.10v3.42h-4.10zM319.35 323.46h4.10v3.42h-4.10zM313.98 282.42h4.10v3.42h-4.10zM314.96 285.84h4.10v3.42h-4.10zM315.93 289.26h4.10v3.42h-4.10zM323.73 316.62h4.10v3.42h-4.10zM324.70 320.04h4.10v3.42h-4.10zM325.68 323.46h4.10v3.42h-4.10zM320.31 282.42h4.10v3.42h-4.10zM321.29 285.84h4.10v3.42h-4.10zM330.06 316.62h4.10v3.42h-4.10zM331.03 320.04h4.10v3.42h-4.10zM332.01 323.46h4.10v3.42h-4.10zM324.69 275.58h4.10v3.42h-4.10zM325.67 279.00h4.10v3.42h-4.10zM326.64 282.42h4.10v3.42h-4.10zM337.36 320.04h4.10v3.42h-4.10zM338.34 323.46h4.10v3.42h-4.10zM330.05 272.16h4.10v3.42h-4.10zM331.02 275.58h4.10v3.42h-4.10zM332.00 279.00h4.10v3.42h-4.10zM332.97 282.42h4.10v3.42h-4.10zM344.67 323.46h4.10v3.42h-4.10zM335.40 268.74h4.10v3.42h-4.10zM336.38 272.16h4.10v3.42h-4.10zM337.35 275.58h4.10v3.42h-4.10zM338.33 279.00h4.10v3.42h-4.10zM351.00 323.46h4.10v3.42h-4.10zM341.73 268.74h4.10v3.42h-4.10zM342.71 272.16h4.10v3.42h-4.10zM343.68 275.58h4.10v3.42h-4.10zM344.66 279.00h4.10v3.42h-4.10zM357.33 323.46h4.10v3.42h-4.10zM346.11 261.90h4.10v3.42h-4.10zM347.09 265.32h4.10v3.42h-4.10zM348.06 268.74h4.10v3.42h-4.10zM349.04 272.16h4.10v3.42h-4.10zM350.01 275.58h4.10v3.42h-4.10zM352.44 261.90h4.10v3.42h-4.10zM353.42 265.32h4.10v3.42h-4.10zM354.39 268.74h4.10v3.42h-4.10zM355.37 272.16h4.10v3.42h-4.10zM356.34 275.58h4.10v3.42h-4.10zM357.80 258.48h4.10v3.42h-4.10zM358.77 261.90h4.10v3.42h-4.10zM359.75 265.32h4.10v3.42h-4.10zM360.72 268.74h4.10v3.42h-4.10zM361.70 272.16h4.10v3.42h-4.10zM362.67 275.58h4.10v3.42h-4.10zM363.15 255.06h4.10v3.42h-4.10zM364.13 258.48h4.10v3.42h-4.10zM365.10 261.90h4.10v3.42h-4.10zM366.08 265.32h4.10v3.42h-4.10zM367.05 268.74h4.10v3.42h-4.10zM368.03 272.16h4.10v3.42h-4.10zM369.00 275.58h4.10v3.42h-4.10zM367.53 248.22h4.10v3.42h-4.10zM368.51 251.64h4.10v3.42h-4.10zM369.48 255.06h4.10v3.42h-4.10zM370.46 258.48h4.10v3.42h-4.10zM371.43 261.90h4.10v3.42h-4.10zM372.41 265.32h4.10v3.42h-4.10zM373.38 268.74h4.10v3.42h-4.10zM374.36 272.16h4.10v3.42h-4.10zM375.33 275.58h4.10v3.42h-4.10zM373.86 248.22h4.10v3.42h-4.10zM374.84 251.64h4.10v3.42h-4.10zM375.81 255.06h4.10v3.42h-4.10zM376.79 258.48h4.10v3.42h-4.10zM377.76 261.90h4.10v3.42h-4.10zM378.74 265.32h4.10v3.42h-4.10zM379.71 268.74h4.10v3.42h-4.10zM380.69 272.16h4.10v3.42h-4.10zM381.66 275.58h4.10v3.42h-4.10zM378.24 241.38h4.10v3.42h-4.10zM379.22 244.80h4.10v3.42h-4.10zM380.19 248.22h4.10v3.42h-4.10zM381.17 251.64h4.10v3.42h-4.10zM382.14 255.06h4.10v3.42h-4.10zM383.12 258.48h4.10v3.42h-4.10zM384.09 261.90h4.10v3.42h-4.10zM385.07 265.32h4.10v3.42h-4.10zM386.04 268.74h4.10v3.42h-4.10zM387.02 272.16h4.10v3.42h-4.10zM387.99 275.58h4.10v3.42h-4.10zM384.57 241.38h4.10v3.42h-4.10zM385.55 244.80h4.10v3.42h-4.10zM386.52 248.22h4.10v3.42h-4.10zM387.50 251.64h4.10v3.42h-4.10zM388.47 255.06h4.10v3.42h-4.10zM389.45 258.48h4.10v3.42h-4.10zM390.42 261.90h4.10v3.42h-4.10zM391.40 265.32h4.10v3.42h-4.10zM392.37 268.74h4.10v3.42h-4.10zM393.35 272.16h4.10v3.42h-4.10zM394.32 275.58h4.10v3.42h-4.10zM407.97 323.46h4.10v3.42h-4.10zM389.93 237.96h4.10v3.42h-4.10zM390.90 241.38h4.10v3.42h-4.10zM391.88 244.80h4.10v3.42h-4.10zM392.85 248.22h4.10v3.42h-4.10zM393.83 251.64h4.10v3.42h-4.10zM394.80 255.06h4.10v3.42h-4.10zM395.78 258.48h4.10v3.42h-4.10zM396.75 261.90h4.10v3.42h-4.10zM397.73 265.32h4.10v3.42h-4.10zM398.70 268.74h4.10v3.42h-4.10zM399.68 272.16h4.10v3.42h-4.10zM400.65 275.58h4.10v3.42h-4.10zM414.30 323.46h4.10v3.42h-4.10zM396.26 237.96h4.10v3.42h-4.10zM397.23 241.38h4.10v3.42h-4.10zM398.21 244.80h4.10v3.42h-4.10zM399.18 248.22h4.10v3.42h-4.10zM400.16 251.64h4.10v3.42h-4.10zM401.13 255.06h4.10v3.42h-4.10zM402.11 258.48h4.10v3.42h-4.10zM403.08 261.90h4.10v3.42h-4.10zM404.06 265.32h4.10v3.42h-4.10zM405.03 268.74h4.10v3.42h-4.10zM406.01 272.16h4.10v3.42h-4.10zM406.98 275.58h4.10v3.42h-4.10zM420.63 323.46h4.10v3.42h-4.10zM401.61 234.54h4.10v3.42h-4.10zM402.59 237.96h4.10v3.42h-4.10zM403.56 241.38h4.10v3.42h-4.10zM404.54 244.80h4.10v3.42h-4.10zM405.51 248.22h4.10v3.42h-4.10zM406.49 251.64h4.10v3.42h-4.10zM407.46 255.06h4.10v3.42h-4.10zM408.44 258.48h4.10v3.42h-4.10zM409.41 261.90h4.10v3.42h-4.10zM410.39 265.32h4.10v3.42h-4.10zM411.36 268.74h4.10v3.42h-4.10zM412.34 272.16h4.10v3.42h-4.10zM413.31 275.58h4.10v3.42h-4.10zM425.98 320.04h4.10v3.42h-4.10zM407.94 234.54h4.10v3.42h-4.10zM408.92 237.96h4.10v3.42h-4.10zM409.89 241.38h4.10v3.42h-4.10zM410.87 244.80h4.10v3.42h-4.10zM411.84 248.22h4.10v3.42h-4.10zM412.82 251.64h4.10v3.42h-4.10zM413.79 255.06h4.10v3.42h-4.10zM414.77 258.48h4.10v3.42h-4.10zM415.74 261.90h4.10v3.42h-4.10zM416.72 265.32h4.10v3.42h-4.10zM417.69 268.74h4.10v3.42h-4.10zM418.67 272.16h4.10v3.42h-4.10zM419.64 275.58h4.10v3.42h-4.10zM420.62 279.00h4.10v3.42h-4.10zM413.30 231.12h4.10v3.42h-4.10zM414.27 234.54h4.10v3.42h-4.10zM415.25 237.96h4.10v3.42h-4.10zM416.22 241.38h4.10v3.42h-4.10zM417.20 244.80h4.10v3.42h-4.10zM418.17 248.22h4.10v3.42h-4.10zM419.15 251.64h4.10v3.42h-4.10zM420.12 255.06h4.10v3.42h-4.10zM421.10 258.48h4.10v3.42h-4.10zM422.07 261.90h4.10v3.42h-4.10zM423.05 265.32h4.10v3.42h-4.10zM424.02 268.74h4.10v3.42h-4.10zM425.00 272.16h4.10v3.42h-4.10zM425.97 275.58h4.10v3.42h-4.10zM426.95 279.00h4.10v3.42h-4.10zM437.67 316.62h4.10v3.42h-4.10zM419.63 231.12h4.10v3.42h-4.10zM420.60 234.54h4.10v3.42h-4.10zM421.58 237.96h4.10v3.42h-4.10zM422.55 241.38h4.10v3.42h-4.10zM423.53 244.80h4.10v3.42h-4.10zM424.50 248.22h4.10v3.42h-4.10zM425.48 251.64h4.10v3.42h-4.10zM426.45 255.06h4.10v3.42h-4.10zM427.43 258.48h4.10v3.42h-4.10zM428.40 261.90h4.10v3.42h-4.10zM429.38 265.32h4.10v3.42h-4.10zM430.35 268.74h4.10v3.42h-4.10zM431.33 272.16h4.10v3.42h-4.10zM432.30 275.58h4.10v3.42h-4.10zM433.28 279.00h4.10v3.42h-4.10zM434.25 282.42h4.10v3.42h-4.10zM424.99 227.70h4.10v3.42h-4.10zM425.96 231.12h4.10v3.42h-4.10zM426.93 234.54h4.10v3.42h-4.10zM427.91 237.96h4.10v3.42h-4.10zM428.88 241.38h4.10v3.42h-4.10zM429.86 244.80h4.10v3.42h-4.10zM430.83 248.22h4.10v3.42h-4.10zM431.81 251.64h4.10v3.42h-4.10zM432.78 255.06h4.10v3.42h-4.10zM433.76 258.48h4.10v3.42h-4.10zM434.73 261.90h4.10v3.42h-4.10zM435.71 265.32h4.10v3.42h-4.10zM436.68 268.74h4.10v3.42h-4.10zM437.66 272.16h4.10v3.42h-4.10zM438.63 275.58h4.10v3.42h-4.10zM439.61 279.00h4.10v3.42h-4.10zM440.58 282.42h4.10v3.42h-4.10zM441.56 285.84h4.10v3.42h-4.10zM434.24 237.96h4.10v3.42h-4.10zM435.21 241.38h4.10v3.42h-4.10zM436.19 244.80h4.10v3.42h-4.10zM437.16 248.22h4.10v3.42h-4.10zM438.14 251.64h4.10v3.42h-4.10zM439.11 255.06h4.10v3.42h-4.10zM440.09 258.48h4.10v3.42h-4.10zM441.06 261.90h4.10v3.42h-4.10zM442.04 265.32h4.10v3.42h-4.10zM443.01 268.74h4.10v3.42h-4.10zM443.99 272.16h4.10v3.42h-4.10zM444.96 275.58h4.10v3.42h-4.10zM445.94 279.00h4.10v3.42h-4.10zM446.91 282.42h4.10v3.42h-4.10zM447.89 285.84h4.10v3.42h-4.10zM448.86 289.26h4.10v3.42h-4.10zM453.73 306.36h4.10v3.42h-4.10zM444.47 251.64h4.10v3.42h-4.10zM445.44 255.06h4.10v3.42h-4.10zM446.42 258.48h4.10v3.42h-4.10zM447.39 261.90h4.10v3.42h-4.10zM448.37 265.32h4.10v3.42h-4.10zM449.34 268.74h4.10v3.42h-4.10zM450.32 272.16h4.10v3.42h-4.10zM451.29 275.58h4.10v3.42h-4.10zM452.27 279.00h4.10v3.42h-4.10zM453.24 282.42h4.10v3.42h-4.10zM454.22 285.84h4.10v3.42h-4.10zM455.19 289.26h4.10v3.42h-4.10zM456.16 292.68h4.10v3.42h-4.10zM457.14 296.10h4.10v3.42h-4.10zM458.11 299.52h4.10v3.42h-4.10zM452.75 258.48h4.10v3.42h-4.10zM453.72 261.90h4.10v3.42h-4.10zM454.70 265.32h4.10v3.42h-4.10zM455.67 268.74h4.10v3.42h-4.10zM456.65 272.16h4.10v3.42h-4.10zM457.62 275.58h4.10v3.42h-4.10zM458.60 279.00h4.10v3.42h-4.10zM459.57 282.42h4.10v3.42h-4.10zM460.55 285.84h4.10v3.42h-4.10zM461.52 289.26h4.10v3.42h-4.10zM462.49 292.68h4.10v3.42h-4.10zM463.47 296.10h4.10v3.42h-4.10zM461.03 265.32h4.10v3.42h-4.10zM462.00 268.74h4.10v3.42h-4.10zM462.98 272.16h4.10v3.42h-4.10zM463.95 275.58h4.10v3.42h-4.10zM464.93 279.00h4.10v3.42h-4.10zM465.90 282.42h4.10v3.42h-4.10zM466.88 285.84h4.10v3.42h-4.10zM467.85 289.26h4.10v3.42h-4.10zM468.82 292.68h4.10v3.42h-4.10zM469.80 296.10h4.10v3.42h-4.10zM468.33 268.74h4.10v3.42h-4.10zM469.31 272.16h4.10v3.42h-4.10zM470.28 275.58h4.10v3.42h-4.10zM471.26 279.00h4.10v3.42h-4.10zM472.23 282.42h4.10v3.42h-4.10zM473.21 285.84h4.10v3.42h-4.10zM474.18 289.26h4.10v3.42h-4.10zM475.15 292.68h4.10v3.42h-4.10zM476.61 275.58h4.10v3.42h-4.10zM477.59 279.00h4.10v3.42h-4.10zM478.56 282.42h4.10v3.42h-4.10zM479.54 285.84h4.10v3.42h-4.10zM480.51 289.26h4.10v3.42h-4.10zM482.94 275.58h4.10v3.42h-4.10zM483.92 279.00h4.10v3.42h-4.10zM484.89 282.42h4.10v3.42h-4.10zM485.87 285.84h4.10v3.42h-4.10zM489.27 275.58h4.10v3.42h-4.10zM490.25 279.00h4.10v3.42h-4.10zM491.22 282.42h4.10v3.42h-4.10zM494.63 272.16h4.10v3.42h-4.10zM495.60 275.58h4.10v3.42h-4.10zM496.58 279.00h4.10v3.42h-4.10z" fill="#000094"/>
<path d="M305.22 296.10h4.10v3.42h-4.10zM306.19 299.52h4.10v3.42h-4.10zM334.44 309.78h4.10v3.42h-4.10z" fill="#004dff"/>
<path d="M311.55 296.10h4.10v3.42h-4.10zM335.89 292.68h4.10v3.42h-4.10zM339.79 306.36h4.10v3.42h-4.10zM367.54 292.68h4.10v3.42h-4.10zM418.18 292.68h4.10v3.42h-4.10zM419.16 296.10h4.10v3.42h-4.10zM424.51 292.68h4.10v3.42h-4.10zM425.49 296.10h4.10v3.42h-4.10zM430.84 292.68h4.10v3.42h-4.10zM431.82 296.10h4.10v3.42h-4.10zM437.17 292.68h4.10v3.42h-4.10zM438.15 296.10h4.10v3.42h-4.10z" fill="#00b2ff"/>
<path d="M312.52 299.52h4.10v3.42h-4.10zM319.83 302.94h4.10v3.42h-4.10zM326.16 302.94h4.10v3.42h-4.10zM327.13 306.36h4.10v3.42h-4.10zM347.10 309.78h4.10v3.42h-4.10zM353.43 309.78h4.10v3.42h-4.10zM359.76 309.78h4.10v3.42h-4.10zM366.09 309.78h4.10v3.42h-4.10zM372.42 309.78h4.10v3.42h-4.10z" fill="#0094ff"/>
<path d="M313.50 302.94h4.10v3.42h-4.10zM320.80 306.36h4.10v3.42h-4.10zM321.78 309.78h4.10v3.42h-4.10zM334.92 289.26h4.10v3.42h-4.10zM347.58 289.26h4.10v3.42h-4.10zM350.50 299.52h4.10v3.42h-4.10z" fill="#001aff"/>
<path d="M314.47 306.36h4.10v3.42h-4.10zM316.90 292.68h4.10v3.42h-4.10zM322.75 313.20h4.10v3.42h-4.10zM322.26 289.26h4.10v3.42h-4.10zM329.08 313.20h4.10v3.42h-4.10zM327.62 285.84h4.10v3.42h-4.10zM328.59 289.26h4.10v3.42h-4.10zM335.41 313.20h4.10v3.42h-4.10zM336.39 316.62h4.10v3.42h-4.10zM333.95 285.84h4.10v3.42h-4.10zM341.74 313.20h4.10v3.42h-4.10zM342.72 316.62h4.10v3.42h-4.10zM343.69 320.04h4.10v3.42h-4.10zM339.30 282.42h4.10v3.42h-4.10zM340.28 285.84h4.10v3.42h-4.10zM348.07 313.20h4.10v3.42h-4.10zM349.05 316.62h4.10v3.42h-4.10zM350.02 320.04h4.10v3.42h-4.10zM345.63 282.42h4.10v3.42h-4.10zM346.61 285.84h4.10v3.42h-4.10zM354.40 313.20h4.10v3.42h-4.10zM355.38 316.62h4.10v3.42h-4.10zM356.35 320.04h4.10v3.42h-4.10zM350.99 279.00h4.10v3.42h-4.10zM351.96 282.42h4.10v3.42h-4.10zM352.94 285.84h4.10v3.42h-4.10zM360.73 313.20h4.10v3.42h-4.10zM361.71 316.62h4.10v3.42h-4.10zM362.68 320.04h4.10v3.42h-4.10zM357.32 279.00h4.10v3.42h-4.10zM358.29 282.42h4.10v3.42h-4.10zM359.27 285.84h4.10v3.42h-4.10zM367.06 313.20h4.10v3.42h-4.10zM368.04 316.62h4.10v3.42h-4.10zM369.01 320.04h4.10v3.42h-4.10zM369.99 323.46h4.10v3.42h-4.10zM363.65 279.00h4.10v3.42h-4.10zM364.62 282.42h4.10v3.42h-4.10zM365.60 285.84h4.10v3.42h-4.10zM373.39 313.20h4.10v3.42h-4.10zM374.37 316.62h4.10v3.42h-4.10zM375.34 320.04h4.10v3.42h-4.10zM376.32 323.46h4.10v3.42h-4.10zM369.98 279.00h4.10v3.42h-4.10zM370.95 282.42h4.10v3.42h-4.10zM371.93 285.84h4.10v3.42h-4.10zM379.72 313.20h4.10v3.42h-4.10zM380.70 316.62h4.10v3.42h-4.10zM381.67 320.04h4.10v3.42h-4.10zM382.65 323.46h4.10v3.42h-4.10zM376.31 279.00h4.10v3.42h-4.10zM377.28 282.42h4.10v3.42h-4.10zM378.26 285.84h4.10v3.42h-4.10zM386.05 313.20h4.10v3.42h-4.10zM387.03 316.62h4.10v3.42h-4.10zM388.00 320.04h4.10v3.42h-4.10zM388.98 323.46h4.10v3.42h-4.10zM382.64 279.00h4.10v3.42h-4.10zM383.61 282.42h4.10v3.42h-4.10zM384.59 285.84h4.10v3.42h-4.10zM391.41 309.78h4.10v3.42h-4.10zM392.38 313.20h4.10v3.42h-4.10zM393.36 316.62h4.10v3.42h-4.10zM394.33 320.04h4.10v3.42h-4.10zM395.31 323.46h4.10v3.42h-4.10zM388.97 279.00h4.10v3.42h-4.10zM389.94 282.42h4.10v3.42h-4.10zM390.92 285.84h4.10v3.42h-4.10zM391.89 289.26h4.10v3.42h-4.10zM396.76 306.36h4.10v3.42h-4.10zM397.74 309.78h4.10v3.42h-4.10zM398.71 313.20h4.10v3.42h-4.10zM399.69 316.62h4.10v3.42h-4.10zM400.66 320.04h4.10v3.42h-4.10zM401.64 323.46h4.10v3.42h-4.10zM395.30 279.00h4.10v3.42h-4.10zM396.27 282.42h4.10v3.42h-4.10zM397.25 285.84h4.10v3.42h-4.10zM398.22 289.26h4.10v3.42h-4.10zM399.19 292.68h4.10v3.42h-4.10zM400.17 296.10h4.10v3.42h-4.10zM401.14 299.52h4.10v3.42h-4.10zM402.12 302.94h4.10v3.42h-4.10zM403.09 306.36h4.10v3.42h-4.10zM404.07 309.78h4.10v3.42h-4.10zM405.04 313.20h4.10v3.42h-4.10zM406.02 316.62h4.10v3.42h-4.10zM406.99 320.04h4.10v3.42h-4.10zM401.63 279.00h4.10v3.42h-4.10zM402.60 282.42h4.10v3.42h-4.10zM403.58 285.84h4.10v3.42h-4.10zM404.55 289.26h4.10v3.42h-4.10zM405.52 292.68h4.10v3.42h-4.10zM406.50 296.10h4.10v3.42h-4.10zM407.47 299.52h4.10v3.42h-4.10zM408.45 302.94h4.10v3.42h-4.10zM409.42 306.36h4.10v3.42h-4.10zM410.40 309.78h4.10v3.42h-4.10zM411.37 313.20h4.10v3.42h-4.10zM412.35 316.62h4.10v3.42h-4.10zM413.32 320.04h4.10v3.42h-4.10zM407.96 279.00h4.10v3.42h-4.10zM408.93 282.42h4.10v3.42h-4.10zM409.91 285.84h4.10v3.42h-4.10zM410.88 289.26h4.10v3.42h-4.10zM411.85 292.68h4.10v3.42h-4.10zM412.83 296.10h4.10v3.42h-4.10zM413.80 299.52h4.10v3.42h-4.10zM414.78 302.94h4.10v3.42h-4.10zM415.75 306.36h4.10v3.42h-4.10zM416.73 309.78h4.10v3.42h-4.10zM417.70 313.20h4.10v3.42h-4.10zM418.68 316.62h4.10v3.42h-4.10zM419.65 320.04h4.10v3.42h-4.10zM414.29 279.00h4.10v3.42h-4.10zM415.26 282.42h4.10v3.42h-4.10zM416.24 285.84h4.10v3.42h-4.10zM417.21 289.26h4.10v3.42h-4.10zM420.13 299.52h4.10v3.42h-4.10zM421.11 302.94h4.10v3.42h-4.10zM422.08 306.36h4.10v3.42h-4.10zM423.06 309.78h4.10v3.42h-4.10zM424.03 313.20h4.10v3.42h-4.10zM425.01 316.62h4.10v3.42h-4.10zM421.59 282.42h4.10v3.42h-4.10zM422.57 285.84h4.10v3.42h-4.10zM423.54 289.26h4.10v3.42h-4.10zM426.46 299.52h4.10v3.42h-4.10zM427.44 302.94h4.10v3.42h-4.10zM428.41 306.36h4.10v3.42h-4.10zM429.39 309.78h4.10v3.42h-4.10zM430.36 313.20h4.10v3.42h-4.10zM431.34 316.62h4.10v3.42h-4.10zM427.92 282.42h4.10v3.42h-4.10zM428.90 285.84h4.10v3.42h-4.10zM429.87 289.26h4.10v3.42h-4.10zM432.79 299.52h4.10v3.42h-4.10zM433.77 302.94h4.10v3.42h-4.10zM434.74 306.36h4.10v3.42h-4.10zM435.72 309.78h4.10v3.42h-4.10zM436.69 313.20h4.10v3.42h-4.10zM435.23 285.84h4.10v3.42h-4.10zM436.20 289.26h4.10v3.42h-4.10zM439.12 299.52h4.10v3.42h-4.10zM440.10 302.94h4.10v3.42h-4.10zM441.07 306.36h4.10v3.42h-4.10zM442.05 309.78h4.10v3.42h-4.10zM443.02 313.20h4.10v3.42h-4.10zM442.53 289.26h4.10v3.42h-4.10zM443.50 292.68h4.10v3.42h-4.10zM444.48 296.10h4.10v3.42h-4.10zM445.45 299.52h4.10v3.42h-4.10zM446.43 302.94h4.10v3.42h-4.10zM447.40 306.36h4.10v3.42h-4.10zM448.38 309.78h4.10v3.42h-4.10zM449.83 292.68h4.10v3.42h-4.10zM450.81 296.10h4.10v3.42h-4.10zM451.78 299.52h4.10v3.42h-4.10zM452.76 302.94h4.10v3.42h-4.10z" fill="#0005ff"/>
<path d="M317.88 296.10h4.10v3.42h-4.10zM318.85 299.52h4.10v3.42h-4.10zM349.53 296.10h4.10v3.42h-4.10z" fill="#b3ff4c"/>
<path d="M323.23 292.68h4.10v3.42h-4.10zM329.56 292.68h4.10v3.42h-4.10zM333.46 306.36h4.10v3.42h-4.10zM340.77 309.78h4.10v3.42h-4.10zM341.25 289.26h4.10v3.42h-4.10zM372.90 289.26h4.10v3.42h-4.10zM378.75 309.78h4.10v3.42h-4.10zM379.23 289.26h4.10v3.42h-4.10zM384.10 306.36h4.10v3.42h-4.10zM385.08 309.78h4.10v3.42h-4.10zM385.56 289.26h4.10v3.42h-4.10zM386.53 292.68h4.10v3.42h-4.10zM389.46 302.94h4.10v3.42h-4.10zM390.43 306.36h4.10v3.42h-4.10zM392.86 292.68h4.10v3.42h-4.10zM393.84 296.10h4.10v3.42h-4.10zM394.81 299.52h4.10v3.42h-4.10zM395.79 302.94h4.10v3.42h-4.10z" fill="#0080ff"/>
<path d="M324.21 296.10h4.10v3.42h-4.10z" fill="#ff1a00"/>
<path d="M325.18 299.52h4.10v3.42h-4.10zM330.54 296.10h4.10v3.42h-4.10z" fill="#e50000"/>
<path d="M328.11 309.78h4.10v3.42h-4.10z" fill="#0038ff"/>
<path d="M331.51 299.52h4.10v3.42h-4.10z" fill="#a80000"/>
<path d="M332.49 302.94h4.10v3.42h-4.10z" fill="#00d1ff"/>
<path d="M336.87 296.10h4.10v3.42h-4.10z" fill="#ff0500"/>
<path d="M337.84 299.52h4.10v3.42h-4.10z" fill="#fa0000"/>
<path d="M338.82 302.94h4.10v3.42h-4.10zM346.12 306.36h4.10v3.42h-4.10zM352.45 306.36h4.10v3.42h-4.10zM370.47 302.94h4.10v3.42h-4.10zM371.44 306.36h4.10v3.42h-4.10z" fill="#00faff"/>
<path d="M342.22 292.68h4.10v3.42h-4.10zM358.78 306.36h4.10v3.42h-4.10zM361.21 292.68h4.10v3.42h-4.10z" fill="#00e5ff"/>
<path d="M343.20 296.10h4.10v3.42h-4.10z" fill="#ffe500"/>
<path d="M344.17 299.52h4.10v3.42h-4.10z" fill="#fff000"/>
<path d="M345.15 302.94h4.10v3.42h-4.10zM351.48 302.94h4.10v3.42h-4.10zM356.83 299.52h4.10v3.42h-4.10zM362.19 296.10h4.10v3.42h-4.10zM363.16 299.52h4.10v3.42h-4.10zM364.14 302.94h4.10v3.42h-4.10z" fill="#05fffa"/>
<path d="M348.55 292.68h4.10v3.42h-4.10zM353.91 289.26h4.10v3.42h-4.10zM354.88 292.68h4.10v3.42h-4.10zM360.24 289.26h4.10v3.42h-4.10zM366.57 289.26h4.10v3.42h-4.10zM368.52 296.10h4.10v3.42h-4.10zM369.49 299.52h4.10v3.42h-4.10zM373.87 292.68h4.10v3.42h-4.10zM374.85 296.10h4.10v3.42h-4.10zM375.82 299.52h4.10v3.42h-4.10zM376.80 302.94h4.10v3.42h-4.10zM377.77 306.36h4.10v3.42h-4.10zM380.20 292.68h4.10v3.42h-4.10zM381.18 296.10h4.10v3.42h-4.10zM382.15 299.52h4.10v3.42h-4.10zM383.13 302.94h4.10v3.42h-4.10zM387.51 296.10h4.10v3.42h-4.10zM388.48 299.52h4.10v3.42h-4.10z" fill="#00f0ff"/>
<path d="M355.86 296.10h4.10v3.42h-4.10z" fill="#1affe5"/>
<path d="M357.81 302.94h4.10v3.42h-4.10zM365.11 306.36h4.10v3.42h-4.10z" fill="#38ffc7"/>
</g>
<path d="M32.00 160.60v-2.2M32.00 36.00v2.2 M77.04 160.60v-2.2M77.04 36.00v2.2 M122.08 160.60v-2.2M122.08 36.00v2.2 M167.12 160.60v-2.2M167.12 36.00v2.2 M212.16 160.60v-2.2M212.16 36.00v2.2 M257.20 160.60v-2.2M257.20 36.00v2.2 M32.00 160.60h2.2M257.20 160.60h-2.2 M32.00 135.68h2.2M257.20 135.68h-2.2 M32.00 110.76h2.2M257.20 110.76h-2.2 M32.00 85.84h2.2M257.20 85.84h-2.2 M32.00 60.92h2.2M257.20 60.92h-2.2 M32.00 36.00h2.2M257.20 36.00h-2.2" stroke="#000" stroke-width="1.2" fill="none"/>
<rect x="32.00" y="36.00" width="225.20" height="124.60" fill="none" stroke="#000" stroke-width="1.5"/>
<text x="32.00" y="170.50" font-size="8.6" font-weight="bold" text-anchor="middle" fill="#000" >150</text>
<text x="77.04" y="170.50" font-size="8.6" font-weight="bold" text-anchor="middle" fill="#000" >250</text>
<text x="122.08" y="170.50" font-size="8.6" font-weight="bold" text-anchor="middle" fill="#000" >350</text>
<text x="167.12" y="170.50" font-size="8.6" font-weight="bold" text-anchor="middle" fill="#000" >450</text>
<text x="212.16" y="170.50" font-size="8.6" font-weight="bold" text-anchor="middle" fill="#000" >550</text>
<text x="257.20" y="170.50" font-size="8.6" font-weight="bold" text-anchor="middle" fill="#000" >650</text>
<text x="30.00" y="163.70" font-size="8.6" font-weight="bold" text-anchor="end" fill="#000" >0</text>
<text x="30.00" y="138.78" font-size="8.6" font-weight="bold" text-anchor="end" fill="#000" >0.1</text>
<text x="30.00" y="113.86" font-size="8.6" font-weight="bold" text-anchor="end" fill="#000" >0.2</text>
<text x="30.00" y="88.94" font-size="8.6" font-weight="bold" text-anchor="end" fill="#000" >0.3</text>
<text x="30.00" y="64.02" font-size="8.6" font-weight="bold" text-anchor="end" fill="#000" >0.4</text>
<text x="30.00" y="39.10" font-size="8.6" font-weight="bold" text-anchor="end" fill="#000" >0.5</text>
<text x="144.60" y="27.70" font-size="12.9" font-weight="bold" text-anchor="middle" fill="#000" >Fraction 7: 388 - 622 nm</text>
<path d="M301.03 160.60v-2.2M301.03 36.00v2.2 M346.09 160.60v-2.2M346.09 36.00v2.2 M391.15 160.60v-2.2M391.15 36.00v2.2 M436.21 160.60v-2.2M436.21 36.00v2.2 M481.27 160.60v-2.2M481.27 36.00v2.2 M278.50 160.60h2.2M503.80 160.60h-2.2 M278.50 135.68h2.2M503.80 135.68h-2.2 M278.50 110.76h2.2M503.80 110.76h-2.2 M278.50 85.84h2.2M503.80 85.84h-2.2 M278.50 60.92h2.2M503.80 60.92h-2.2 M278.50 36.00h2.2M503.80 36.00h-2.2" stroke="#000" stroke-width="1.2" fill="none"/>
<rect x="278.50" y="36.00" width="225.30" height="124.60" fill="none" stroke="#000" stroke-width="1.5"/>
<text x="301.03" y="170.50" font-size="8.6" font-weight="bold" text-anchor="middle" fill="#000" >200</text>
<text x="346.09" y="170.50" font-size="8.6" font-weight="bold" text-anchor="middle" fill="#000" >300</text>
<text x="391.15" y="170.50" font-size="8.6" font-weight="bold" text-anchor="middle" fill="#000" >400</text>
<text x="436.21" y="170.50" font-size="8.6" font-weight="bold" text-anchor="middle" fill="#000" >500</text>
<text x="481.27" y="170.50" font-size="8.6" font-weight="bold" text-anchor="middle" fill="#000" >600</text>
<text x="276.50" y="163.70" font-size="8.6" font-weight="bold" text-anchor="end" fill="#000" >0</text>
<text x="276.50" y="138.78" font-size="8.6" font-weight="bold" text-anchor="end" fill="#000" >0.1</text>
<text x="276.50" y="113.86" font-size="8.6" font-weight="bold" text-anchor="end" fill="#000" >0.2</text>
<text x="276.50" y="88.94" font-size="8.6" font-weight="bold" text-anchor="end" fill="#000" >0.3</text>
<text x="276.50" y="64.02" font-size="8.6" font-weight="bold" text-anchor="end" fill="#000" >0.4</text>
<text x="276.50" y="39.10" font-size="8.6" font-weight="bold" text-anchor="end" fill="#000" >0.5</text>
<text x="391.15" y="27.70" font-size="12.9" font-weight="bold" text-anchor="middle" fill="#000" >Fraction 8: 266 - 388 nm</text>
<path d="M54.52 337.50v-2.2M54.52 213.00v2.2 M99.56 337.50v-2.2M99.56 213.00v2.2 M144.60 337.50v-2.2M144.60 213.00v2.2 M189.64 337.50v-2.2M189.64 213.00v2.2 M234.68 337.50v-2.2M234.68 213.00v2.2 M32.00 337.50h2.2M257.20 337.50h-2.2 M32.00 312.60h2.2M257.20 312.60h-2.2 M32.00 287.70h2.2M257.20 287.70h-2.2 M32.00 262.80h2.2M257.20 262.80h-2.2 M32.00 237.90h2.2M257.20 237.90h-2.2 M32.00 213.00h2.2M257.20 213.00h-2.2" stroke="#000" stroke-width="1.2" fill="none"/>
<rect x="32.00" y="213.00" width="225.20" height="124.50" fill="none" stroke="#000" stroke-width="1.5"/>
<text x="54.52" y="347.40" font-size="8.6" font-weight="bold" text-anchor="middle" fill="#000" >200</text>
<text x="99.56" y="347.40" font-size="8.6" font-weight="bold" text-anchor="middle" fill="#000" >300</text>
<text x="144.60" y="347.40" font-size="8.6" font-weight="bold" text-anchor="middle" fill="#000" >400</text>
<text x="189.64" y="347.40" font-size="8.6" font-weight="bold" text-anchor="middle" fill="#000" >500</text>
<text x="234.68" y="347.40" font-size="8.6" font-weight="bold" text-anchor="middle" fill="#000" >600</text>
<text x="30.00" y="340.60" font-size="8.6" font-weight="bold" text-anchor="end" fill="#000" >0</text>
<text x="30.00" y="315.70" font-size="8.6" font-weight="bold" text-anchor="end" fill="#000" >0.1</text>
<text x="30.00" y="290.80" font-size="8.6" font-weight="bold" text-anchor="end" fill="#000" >0.2</text>
<text x="30.00" y="265.90" font-size="8.6" font-weight="bold" text-anchor="end" fill="#000" >0.3</text>
<text x="30.00" y="241.00" font-size="8.6" font-weight="bold" text-anchor="end" fill="#000" >0.4</text>
<text x="30.00" y="216.10" font-size="8.6" font-weight="bold" text-anchor="end" fill="#000" >0.5</text>
<text x="144.60" y="204.70" font-size="12.9" font-weight="bold" text-anchor="middle" fill="#000" >Fraction 11: 56.2 - 94.8 nm</text>
<path d="M301.03 337.50v-2.2M301.03 213.00v2.2 M346.09 337.50v-2.2M346.09 213.00v2.2 M391.15 337.50v-2.2M391.15 213.00v2.2 M436.21 337.50v-2.2M436.21 213.00v2.2 M481.27 337.50v-2.2M481.27 213.00v2.2 M278.50 337.50h2.2M503.80 337.50h-2.2 M278.50 312.60h2.2M503.80 312.60h-2.2 M278.50 287.70h2.2M503.80 287.70h-2.2 M278.50 262.80h2.2M503.80 262.80h-2.2 M278.50 237.90h2.2M503.80 237.90h-2.2 M278.50 213.00h2.2M503.80 213.00h-2.2" stroke="#000" stroke-width="1.2" fill="none"/>
<rect x="278.50" y="213.00" width="225.30" height="124.50" fill="none" stroke="#000" stroke-width="1.5"/>
<text x="301.03" y="347.40" font-size="8.6" font-weight="bold" text-anchor="middle" fill="#000" >200</text>
<text x="346.09" y="347.40" font-size="8.6" font-weight="bold" text-anchor="middle" fill="#000" >300</text>
<text x="391.15" y="347.40" font-size="8.6" font-weight="bold" text-anchor="middle" fill="#000" >400</text>
<text x="436.21" y="347.40" font-size="8.6" font-weight="bold" text-anchor="middle" fill="#000" >500</text>
<text x="481.27" y="347.40" font-size="8.6" font-weight="bold" text-anchor="middle" fill="#000" >600</text>
<text x="276.50" y="340.60" font-size="8.6" font-weight="bold" text-anchor="end" fill="#000" >0</text>
<text x="276.50" y="315.70" font-size="8.6" font-weight="bold" text-anchor="end" fill="#000" >0.1</text>
<text x="276.50" y="290.80" font-size="8.6" font-weight="bold" text-anchor="end" fill="#000" >0.2</text>
<text x="276.50" y="265.90" font-size="8.6" font-weight="bold" text-anchor="end" fill="#000" >0.3</text>
<text x="276.50" y="241.00" font-size="8.6" font-weight="bold" text-anchor="end" fill="#000" >0.4</text>
<text x="276.50" y="216.10" font-size="8.6" font-weight="bold" text-anchor="end" fill="#000" >0.5</text>
<text x="391.15" y="204.70" font-size="12.9" font-weight="bold" text-anchor="middle" fill="#000" >Fraction 12: 28.6 - 56.2 nm</text>
<text transform="translate(8.8,97.50) rotate(-90)" font-size="11" font-weight="bold" text-anchor="middle">KMD<tspan font-size="8.2" dy="3.8">CH2</tspan><tspan dy="-3.8" font-size="10.2"> [Da]</tspan></text>
<text transform="translate(8.8,274.50) rotate(-90)" font-size="11" font-weight="bold" text-anchor="middle">KMD<tspan font-size="8.2" dy="3.8">CH2</tspan><tspan dy="-3.8" font-size="10.2"> [Da]</tspan></text>
<text x="144.80" y="358.40" font-size="11" font-weight="bold" text-anchor="middle" fill="#000" >NM [Da]</text>
<text x="391.20" y="358.40" font-size="11" font-weight="bold" text-anchor="middle" fill="#000" >NM [Da]</text>
<text x="0.40" y="15.50" font-size="20" font-weight="bold" text-anchor="start" fill="#000" >a</text>
<text x="528.00" y="15.90" font-size="19" font-weight="bold" text-anchor="start" fill="#000" >b</text>
<text x="527.80" y="214.10" font-size="19" font-weight="bold" text-anchor="start" fill="#000" >c</text>
<line x1="551" y1="24" x2="551" y2="180.3" stroke="#707070" stroke-width="1.4" />
<line x1="551" y1="24.0" x2="554" y2="24.0" stroke="#707070" stroke-width="0.9" />
<text x="550" y="25.8" font-size="5" text-anchor="end" fill="#444">3</text>
<line x1="551" y1="59.6" x2="554" y2="59.6" stroke="#707070" stroke-width="0.9" />
<text x="550" y="61.4" font-size="5" text-anchor="end" fill="#444">2.5</text>
<line x1="551" y1="94.2" x2="554" y2="94.2" stroke="#707070" stroke-width="0.9" />
<text x="550" y="96.0" font-size="5" text-anchor="end" fill="#444">2</text>
<line x1="551" y1="128.3" x2="554" y2="128.3" stroke="#707070" stroke-width="0.9" />
<text x="550" y="130.10000000000002" font-size="5" text-anchor="end" fill="#444">1.5</text>
<line x1="551" y1="163.3" x2="554" y2="163.3" stroke="#707070" stroke-width="0.9" />
<text x="550" y="165.10000000000002" font-size="5" text-anchor="end" fill="#444">1</text>
<line x1="551" y1="180.3" x2="557.9" y2="180.3" stroke="#707070" stroke-width="1.2" />
<line x1="557.9" y1="180.3" x2="590" y2="180.3" stroke="#f21c1c" stroke-width="1.2" />
<line x1="590" y1="180.3" x2="760" y2="180.3" stroke="#2626f6" stroke-width="1.2" />
<line x1="760" y1="180.3" x2="816" y2="180.3" stroke="#3c3c3c" stroke-width="1.2" />
<line x1="816" y1="180.3" x2="820.5" y2="180.3" stroke="#2b2b2b" stroke-width="1.2" />
<line x1="653.7" y1="31.5" x2="809.3" y2="31.5" stroke="#2b2b2b" stroke-width="1.0" />
<line x1="653.7" y1="31.5" x2="653.7" y2="66.7" stroke="#2b2b2b" stroke-width="1.0" />
<line x1="809.3" y1="31.5" x2="809.3" y2="173.5" stroke="#2b2b2b" stroke-width="1.0" />
<line x1="568.4" y1="66.7" x2="739" y2="66.7" stroke="#2b2b2b" stroke-width="1.0" />
<line x1="568.4" y1="66.7" x2="568.4" y2="140.3" stroke="#2b2b2b" stroke-width="1.0" />
<line x1="739" y1="66.7" x2="739" y2="98.6" stroke="#2b2b2b" stroke-width="1.0" />
<line x1="686.5" y1="98.6" x2="791.5" y2="98.6" stroke="#2b2b2b" stroke-width="1.0" />
<line x1="686.5" y1="98.6" x2="686.5" y2="104.2" stroke="#2b2b2b" stroke-width="1.0" />
<line x1="791.5" y1="98.6" x2="791.5" y2="105.9" stroke="#2b2b2b" stroke-width="1.0" />
<line x1="557.9" y1="140.3" x2="578.9" y2="140.3" stroke="#f21c1c" stroke-width="1.1" />
<line x1="570.4" y1="141.3" x2="586.6" y2="141.3" stroke="#f21c1c" stroke-width="1.1" />
<line x1="565.1" y1="143.7" x2="575.6" y2="143.7" stroke="#f21c1c" stroke-width="1.1" />
<line x1="572.4" y1="173.3" x2="579.3" y2="173.3" stroke="#f21c1c" stroke-width="1.1" />
<line x1="578.9" y1="140.3" x2="578.9" y2="141.3" stroke="#f21c1c" stroke-width="1.1" />
<line x1="570.4" y1="141.3" x2="570.4" y2="143.7" stroke="#f21c1c" stroke-width="1.1" />
<line x1="575.6" y1="143.7" x2="575.6" y2="173.3" stroke="#f21c1c" stroke-width="1.1" />
<line x1="557.9" y1="140.3" x2="557.9" y2="180.3" stroke="#f21c1c" stroke-width="1.1" />
<line x1="565.1" y1="143.7" x2="565.1" y2="180.3" stroke="#f21c1c" stroke-width="1.1" />
<line x1="572.4" y1="173.3" x2="572.4" y2="180.3" stroke="#f21c1c" stroke-width="1.1" />
<line x1="579.3" y1="173.3" x2="579.3" y2="180.3" stroke="#f21c1c" stroke-width="1.1" />
<line x1="586.6" y1="141.3" x2="586.6" y2="180.3" stroke="#f21c1c" stroke-width="1.1" />
<path d="M616.6 104.2H756.6M593.4 115.7H639.7M600.4 121.5H678.75M642.0 122.0H715.4M664.3 122.6H749.6M631.2 123.4H652.9M619.4 126.9H643.2M671.5 131.8H723.6M685.5 132.3H742.1M678.75 135.5H698.5M610.9 138.9H627.1M607.5 139.9H614.3M714.1 141.1H720.9M692.9 144.8H703.5M622.0 145.5H632.3M700.0 147.4H707.1M727.5 149.1H735.4M628.8 158.9H635.4M649.8 159.5H657.2M616.5 104.2V115.7M639.6 115.7V121.5M678.7 121.5V122.0M642.0 122.0V123.4M715.4 122.0V122.6M631.2 123.4V126.9M619.4 126.9V138.9M697.7 122.6V131.8M627.1 138.9V145.5M610.9 138.9V139.9M652.9 123.4V159.5M632.3 145.5V158.9M717.5 132.1V141.1M731.5 132.1V149.1M698.5 135.5V144.8M703.5 144.8V147.4M724.5 131.8V132.3M593.4 115.7V180.3M600.5 121.5V180.3M607.5 139.9V180.3M614.3 139.9V180.3M622.0 145.5V180.3M628.8 158.9V180.3M635.4 158.9V180.3M643.2 126.9V180.3M649.8 159.5V180.3M657.2 159.5V180.3M664.3 122.6V180.3M671.5 131.8V180.3M678.75 135.5V180.3M685.5 132.3V180.3M692.9 144.8V180.3M700.0 147.4V180.3M707.1 147.4V180.3M714.1 141.1V180.3M720.9 141.1V180.3M727.5 149.1V180.3M735.4 149.1V180.3M742.1 132.3V180.3M749.6 122.6V180.3M756.6 104.2V180.3" stroke="#2626f6" stroke-width="1.15" fill="none"/>
<line x1="770.5" y1="171.4" x2="777.6" y2="171.4" stroke="#2f9a3a" stroke-width="1.1" />
<line x1="763.4" y1="168.4" x2="774.1" y2="168.4" stroke="#2f9a3a" stroke-width="1.1" />
<line x1="768.8" y1="145.4" x2="784.6" y2="145.4" stroke="#2f9a3a" stroke-width="1.1" />
<line x1="776.6" y1="125.7" x2="791.8" y2="125.7" stroke="#2f9a3a" stroke-width="1.1" />
<line x1="784.2" y1="105.9" x2="799.0" y2="105.9" stroke="#2f9a3a" stroke-width="1.1" />
<line x1="768.8" y1="145.4" x2="768.8" y2="168.4" stroke="#2f9a3a" stroke-width="1.1" />
<line x1="774.1" y1="168.4" x2="774.1" y2="171.4" stroke="#2f9a3a" stroke-width="1.1" />
<line x1="776.6" y1="125.7" x2="776.6" y2="145.4" stroke="#2f9a3a" stroke-width="1.1" />
<line x1="784.2" y1="105.9" x2="784.2" y2="125.7" stroke="#2f9a3a" stroke-width="1.1" />
<line x1="763.4" y1="168.4" x2="763.4" y2="180.3" stroke="#2f9a3a" stroke-width="1.1" />
<line x1="770.5" y1="171.4" x2="770.5" y2="180.3" stroke="#2f9a3a" stroke-width="1.1" />
<line x1="777.6" y1="171.4" x2="777.6" y2="180.3" stroke="#2f9a3a" stroke-width="1.1" />
<line x1="784.6" y1="145.4" x2="784.6" y2="180.3" stroke="#2f9a3a" stroke-width="1.1" />
<line x1="806.0" y1="173.5" x2="813.0" y2="173.5" stroke="#2f9a3a" stroke-width="1.1" />
<line x1="806.0" y1="173.5" x2="806.0" y2="180.3" stroke="#2f9a3a" stroke-width="1.1" />
<line x1="813.0" y1="173.5" x2="813.0" y2="180.3" stroke="#2f9a3a" stroke-width="1.1" />
<line x1="791.8" y1="125.7" x2="791.8" y2="180.3" stroke="#55b055" stroke-width="1.1" stroke-dasharray="1.6 0.8"/>
<line x1="799.0" y1="105.9" x2="799.0" y2="180.3" stroke="#55b055" stroke-width="1.1" stroke-dasharray="1.6 0.8"/>
<text x="568.5" y="63.8" font-size="9.6" font-weight="normal" text-anchor="start" fill="#000">HFO</text>
<text x="738.5" y="63.9" font-size="9.6" font-weight="normal" text-anchor="end" fill="#000">aerosol</text>
<text x="810.4" y="29.1" font-size="9.6" font-weight="normal" text-anchor="end" fill="#000">Fraction 7/8</text>
<text x="687.6" y="95.7" font-size="9.6" font-weight="normal" text-anchor="start" fill="#000">extracts</text>
<text x="743.6" y="96.4" font-size="9.6" font-weight="normal" text-anchor="start" fill="#000">Fraction 11/12</text>
<text x="538.8" y="192.8" font-size="11.5" font-weight="bold" text-anchor="start" fill="#f01a1a">heavy fuel oil</text>
<text x="646.2" y="193.3" font-size="11.5" font-weight="bold" text-anchor="start" fill="#1a1af0">filter extracts</text>
<text x="767.0" y="192.8" font-size="11.3" font-weight="bold" text-anchor="start" fill="#1f8a3c">particle</text>
<text transform="translate(536.6,102.5) rotate(-90)" font-size="11.4" font-weight="bold" text-anchor="middle">euclidean distance [a.u.]</text>
<rect x="562.6" y="226.2" width="228.4" height="109.8" fill="none" stroke="#111" stroke-width="1.1"/>
<path d="M563.5 336.5V236.1H589.0V336.5M589.0 336.5V304.6H607.8V336.5M608.6 336.5V302.6H628.0V336.5M628.0 336.5V326.5H647.6V336.5M647.6 336.5V333.6H662.0V336.5" fill="none" stroke="#0d0df2" stroke-width="2.1"/>
<path d="M662 334.9H785.4" stroke="#0d0df2" stroke-width="1.5"/>
<path d="M562.6 336.0H791.0" stroke="#111" stroke-width="1.1"/>
<path d="M562.6 336.0h2.2" stroke="#111" stroke-width="1"/>
<text x="561.3" y="338.8" font-size="7.8" font-weight="bold" text-anchor="end">0</text>
<path d="M562.6 292.3h2.2" stroke="#111" stroke-width="1"/>
<text x="561.3" y="295.1" font-size="7.8" font-weight="bold" text-anchor="end">1</text>
<path d="M562.6 248.6h2.2" stroke="#111" stroke-width="1"/>
<text x="561.3" y="251.4" font-size="7.8" font-weight="bold" text-anchor="end">2</text>
<path d="M564.86 336.0v-1.4M575.74 336.0v-1.4M584.18 336.0v-1.4M591.08 336.0v-1.4M596.91 336.0v-1.4M601.96 336.0v-1.4M606.41 336.0v-1.4M610.40 336.0v-2.4M636.62 336.0v-1.4M651.96 336.0v-1.4M662.84 336.0v-1.4M671.28 336.0v-1.4M678.18 336.0v-1.4M684.01 336.0v-1.4M689.06 336.0v-1.4M693.51 336.0v-1.4M697.50 336.0v-2.4M723.72 336.0v-1.4M739.06 336.0v-1.4M749.94 336.0v-1.4M758.38 336.0v-1.4M765.28 336.0v-1.4M771.11 336.0v-1.4M776.16 336.0v-1.4M780.61 336.0v-1.4M784.60 336.0v-2.4" stroke="#111" stroke-width="0.9"/>
<text x="610.4" y="347.9" font-size="7.9" font-weight="bold" text-anchor="middle">10<tspan font-size="5.6" dy="-4.6">-1</tspan></text>
<text x="697.5" y="347.9" font-size="7.9" font-weight="bold" text-anchor="middle">10<tspan font-size="5.6" dy="-4.6">0</tspan></text>
<text x="784.6" y="347.9" font-size="7.9" font-weight="bold" text-anchor="middle">10<tspan font-size="5.6" dy="-4.6">1</tspan></text>
<text x="562.6" y="224.2" font-size="7.4" font-weight="bold">x 10<tspan font-size="5.2" dy="-4.2">9</tspan></text>
<text x="577.0" y="234.8" font-size="8.8" font-weight="bold" text-anchor="middle" fill="#000" >&amp;</text>
<text x="600.0" y="301.6" font-size="9.0" font-weight="bold" text-anchor="middle" fill="#000" >#</text>
<text x="655.4" y="330.2" font-size="10.5" font-weight="bold" text-anchor="middle" fill="#000" >§</text>
<text x="671.0" y="332.6" font-size="9.6" font-weight="bold" text-anchor="middle" fill="#000" >%</text>
<rect x="705.6" y="233.4" width="78.0" height="74.9" fill="#fff" stroke="#111" stroke-width="1.1"/>
<text x="717.0" y="247.3" font-size="9.6" font-weight="bold" text-anchor="middle" fill="#000" >%</text>
<text x="727.7" y="247.3" font-size="9.6" font-weight="bold" text-anchor="start" fill="#000" >Fraction 7</text>
<text x="717.0" y="264.8" font-size="9.6" font-weight="bold" text-anchor="middle" fill="#000" >§</text>
<text x="727.7" y="264.8" font-size="9.6" font-weight="bold" text-anchor="start" fill="#000" >Fraction 8</text>
<text x="717.0" y="282.3" font-size="9.6" font-weight="bold" text-anchor="middle" fill="#000" >#</text>
<text x="727.7" y="282.3" font-size="9.6" font-weight="bold" text-anchor="start" fill="#000" >Fraction 11</text>
<text x="717.0" y="299.8" font-size="9.6" font-weight="bold" text-anchor="middle" fill="#000" >&amp;</text>
<text x="727.7" y="299.8" font-size="9.6" font-weight="bold" text-anchor="start" fill="#000" >Fraction 12</text>
<text transform="translate(552.6,281.0) rotate(-90)" font-size="9.6" font-weight="bold" text-anchor="middle">number [a.u.]</text>
<text x="632.2" y="361.2" font-size="9.5" font-weight="bold" text-anchor="start" fill="#000" >particle size [µm]</text>
</svg>
</body></html>
